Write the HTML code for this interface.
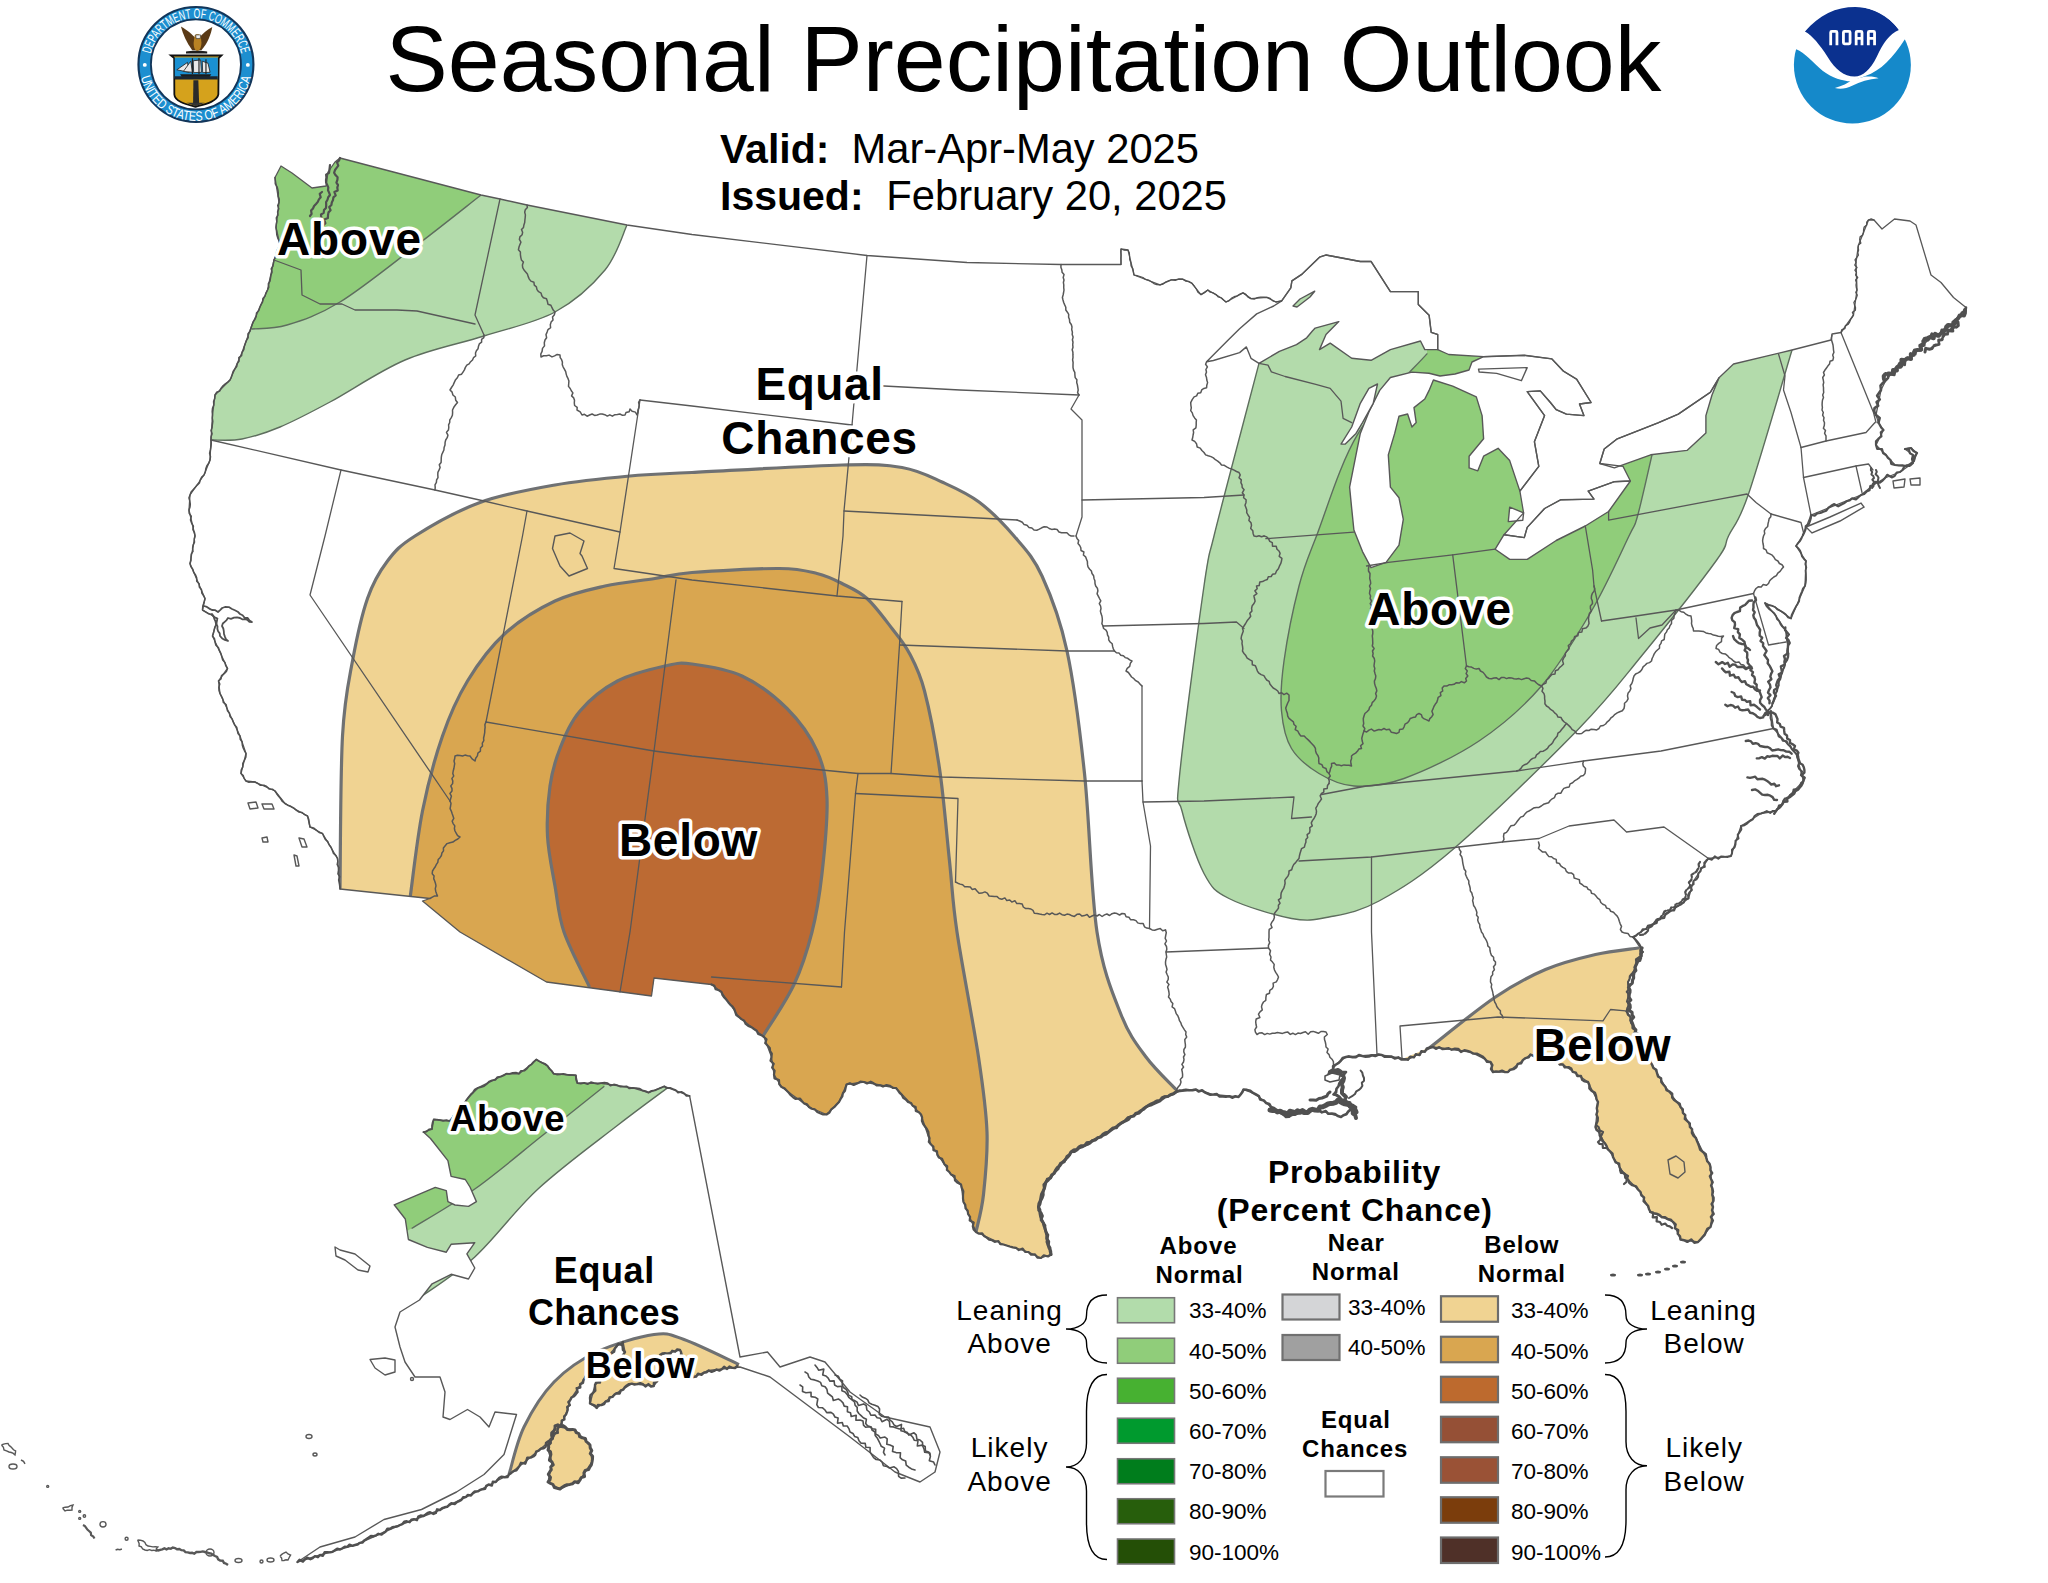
<!DOCTYPE html><html><head><meta charset="utf-8"><style>
html,body{margin:0;padding:0;background:#fff;}svg{display:block;}
text{font-family:"Liberation Sans",sans-serif;}
.lbl{font-weight:bold;fill:#000;stroke:#fff;stroke-width:7px;stroke-linejoin:round;paint-order:stroke;}
</style></head><body>
<svg width="2048" height="1583" viewBox="0 0 2048 1583">
<rect width="2048" height="1583" fill="#fff"/>
<defs>
<clipPath id="cc"><path d="M281,166 L292,173 L312,188 L326,186 L328,172 L335,162 L340,158 L481,195 L500,199 L527,205 L627,225 L692,234.5 L867,255.5 L967,262.5 L1061,264.5 L1121,264.5 L1121,249 L1128,250 L1134,275 L1160,284.9 L1171.4,279.8 L1182.7,279.2 L1191.8,283.2 L1200.9,294.6 L1207.8,290 L1221.4,298 L1226,302 L1243,292.9 L1251,298.6 L1266.9,297.4 L1276,302 L1281.7,300.8 L1290.8,287.8 L1291.9,280.9 L1302.1,274.1 L1319.5,257.2 L1326,255 L1360.3,261.5 L1371.1,261.5 L1390.4,291.6 L1418.3,291.6 L1418.3,304.5 L1429.1,315.2 L1431.2,332.4 L1437.7,334.5 L1437.7,349.6 L1448.7,354.5 L1483.6,356.7 L1524.3,355.3 L1551.9,358.9 L1563.5,371.2 L1576.6,379.2 L1591.1,402.5 L1579.5,404 L1583.9,415.6 L1566.4,414.1 L1556.2,409.7 L1550.4,402.5 L1540.3,390.9 L1527.2,391.6 L1544.6,415.6 L1534.4,441.7 L1538.8,466.4 L1519.9,491.1 L1523.6,512.9 L1504,534.7 L1524.3,537.6 L1527.2,527.4 L1544.6,508.5 L1560.6,499.8 L1594,499.1 L1588.2,491.1 L1614.4,481.7 L1630.4,481 L1623,466.4 L1599.8,463.5 L1604.2,449 L1617.3,438.8 L1658,422.8 L1678.3,414.1 L1710.3,392.3 L1719,377.8 L1733.5,364 L1792,350 L1831,340 L1832,334 L1841,332.5 L1853.5,315 L1857,290 L1856,262.5 L1858.5,245 L1868.5,220 L1874,220 L1882,229 L1894.5,219 L1910,221 L1916,225 L1931,275 L1941,282.5 L1953.5,297.5 L1966,307.5 L1958,318 L1946,330 L1930,338 L1911,357.5 L1898,366 L1886,380 L1881,390 L1876,415 L1878.5,422.5 L1883.5,430 L1876,445 L1886,455 L1895,465 L1906,466 L1914,461 L1917,453 L1911,448 L1905,449 L1913,455 L1913,463 L1900,472 L1885,478 L1873.5,485 L1861,495 L1811,515 L1803,535 L1796,546 L1806,561 L1805,586 L1791,618.5 L1775,607 L1765,603 L1776,616 L1786,631 L1788.5,653.5 L1781,676 L1772,706 L1763.5,716 L1771,711 L1773.5,728.5 L1796,753.5 L1803.5,781 L1790,795 L1776,811 L1761,813.5 L1741,826 L1731,856 L1708.5,858.5 L1693.5,881 L1688.5,898.5 L1661,918.5 L1641,932 L1633,937 L1643,952 L1628,982 L1628,1014.5 L1630.5,1017 L1635.5,1032 L1650.5,1062 L1665.5,1087 L1680.5,1107 L1703,1152 L1710.5,1167 L1713,1207 L1710.5,1227 L1698,1242 L1680.5,1239.5 L1673,1222 L1650.5,1212 L1640.5,1192 L1628,1179.5 L1613,1157 L1595.5,1127 L1598,1102 L1588,1082 L1563,1064.5 L1530.5,1054.5 L1508,1072 L1493,1072 L1490.5,1062 L1470.5,1052 L1433,1047 L1408,1059.5 L1378.5,1054.5 L1346,1057 L1336,1064.5 L1328.5,1074.5 L1346,1072 L1333.5,1094.5 L1356,1107 L1341,1117 L1316,1109.5 L1286,1117 L1271,1107 L1256,1094.5 L1243.5,1089.5 L1238.5,1097 L1213.5,1094.5 L1196,1089.5 L1176,1092 L1146,1107 L1108.5,1132 L1071,1152 L1046,1182 L1038.5,1207 L1046,1232 L1051,1254.5 L1041,1258 L1028.5,1252 L1003.5,1244.5 L976,1232 L963.5,1202 L961,1184.5 L951,1174.5 L931,1144.5 L921,1114.5 L896,1088 L864,1082 L846.5,1084.5 L839,1102 L826.5,1114.5 L809,1107 L781.5,1087 L774,1074.5 L771.5,1057 L764,1037 L739,1017 L721.5,992 L711.5,984.5 L654,978 L651.5,996 L546.5,982 L460,932 L422.5,901 L430,898.5 L340,889 L337.5,858.5 L322.5,833.5 L310,827 L307.5,816 L285,803.5 L275,791 L255,782 L246,781 L241,773.5 L246,753.5 L240,736 L220,693.5 L218.5,681 L227.5,668.5 L212.5,636 L217.5,618.5 L202.5,610 L205,598.5 L190,563.5 L195,536 L189,510 L190,495 L204,475 L210,460 L211,440 L212.5,415 L215,395 L230,380 L242,352.5 L252,325 L267.5,290 L274,260 L280,245 L276,227.5 L279,202.5 L275,177.5Z"/></clipPath>
<clipPath id="ak"><path d="M423.4,1132.1 L432.1,1129 L433.7,1119.5 L449.5,1121 L468.5,1097.4 L477.9,1087.9 L506.4,1073.7 L519,1073.7 L531.6,1064.2 L536.4,1059.5 L547.4,1065.8 L553.7,1073.7 L575.9,1075.3 L577.4,1083.2 L601.1,1083.2 L632.7,1087.9 L648.5,1092.6 L664.3,1086.3 L689.6,1095.8 L740,1357 L767.5,1352 L780,1367 L810,1357 L825,1362 L850,1392 L885,1417 L930,1427 L940,1452 L935,1472 L920,1482 L895,1472 L850,1437 L810,1407 L770,1377 L740,1367 L708.7,1370.5 L693.4,1377 L680,1350 L660,1355 L665,1370 L653.8,1386 L631.8,1383.7 L614.3,1394.7 L596.7,1408 L590,1403.5 L595,1385 L610,1370 L625,1352 L623,1342 L616.5,1346.4 L600,1365 L583.5,1380 L570.3,1400 L566,1414.5 L552.7,1438.7 L526.4,1460.6 L509,1474.5 L480,1490 L440,1510 L400,1525 L355,1545 L320,1555 L297.5,1562 L320,1547 L355,1537 L384,1519.5 L421.5,1509.5 L456.5,1492 L484,1474.5 L504,1454.5 L516.5,1414.5 L495,1412 L489,1427 L480,1417 L467.5,1409.5 L450,1419.5 L443,1417 L445,1392 L440,1377 L415,1377 L405,1362 L400,1347 L395,1327 L400,1312 L419.5,1300 L432.1,1283.8 L451.1,1274.3 L468.5,1279 L474.8,1268 L466.9,1253.8 L474.8,1242.7 L451.1,1244.3 L446.3,1252.2 L427.4,1247.4 L408.4,1239.5 L405.3,1219 L394.2,1204.8 L435.3,1187.4 L446.3,1190.6 L447.9,1201.6 L455,1205 L468.5,1206.4 L476.4,1201.6 L470,1187 L465.3,1179.5 L451.1,1176.4 L447.9,1160.6 L430.5,1138.5ZM335,1247 L340,1250 L355,1254 L370,1266 L368,1272 L358,1270 L345,1260 L336,1256ZM370,1359.5 L385,1358 L395,1360 L395,1372 L385,1375 L375,1368ZM555,1426 L575,1430 L590,1445 L592,1462 L580,1480 L560,1489 L548,1482 L552,1462 L548,1450Z"/></clipPath>
</defs>
<g clip-path="url(#cc)">
<path fill="#b3dbab" d="M627,225 C623.3,232.5 617,255.5 605,270 C593,284.5 575.2,301 555,312 C534.8,323 509,328 484,336 C459,344 430.7,349 405,360 C379.3,371 350.8,390.8 330,402 C309.2,413.2 294.7,420.8 280,427 C265.3,433.2 253.3,436.8 242,439 C230.7,441.2 217,439.8 212,440 L150,440 L150,100 L640,100Z"/>
<path fill="#90cd7a" d="M481,195 C470.3,203.3 440.5,227.2 417,245 C393.5,262.8 361.7,288.7 340,302 C318.3,315.3 301.7,320.5 287,325 C272.3,329.5 257.8,328.3 252,329 L150,330 L150,100 L470,100Z"/>
<path fill="#b3dbab" d="M1259,363.4 C1256.5,372.8 1251.6,391.2 1244.1,420 C1236.6,448.8 1220.7,508.3 1214,536 C1207.3,563.7 1209.8,546 1204,586 C1198.2,626 1183.2,738.5 1179.5,776 C1175.8,813.5 1177.9,794.8 1182,811 C1186.1,827.2 1196.2,858.9 1204,873.5 C1211.8,888.1 1214.4,891 1229,898.5 C1243.6,906 1274.8,915.4 1291.5,918.5 C1308.2,921.6 1314.4,919.9 1329,917 C1343.6,914.1 1358.2,912.4 1379,901 C1399.8,889.6 1420.7,877.2 1454,848.5 C1487.3,819.8 1547.8,760.6 1579,728.5 C1610.2,696.4 1618.7,683.9 1641.5,656 C1664.3,628.1 1701.5,581 1716,561 C1730.5,541 1723.1,547.2 1728.5,536 C1733.9,524.8 1737.9,525 1748.5,494 C1759.1,463 1784.8,374 1792,350 L1800,250 L1330,250 L1330,320 L1280,345Z"/>
<path fill="#90cd7a" d="M1426.9,353.9 C1415.5,367.1 1376.6,403 1358.2,433.4 C1339.8,463.8 1326.4,510.6 1316.5,536 C1306.6,561.4 1304.4,565.2 1299,586 C1293.6,606.8 1286.9,640.2 1284,661 C1281.1,681.8 1280.2,696.4 1281.5,711 C1282.8,725.6 1285.2,738.1 1291.5,748.5 C1297.8,758.9 1308.6,767.2 1319,773.5 C1329.4,779.8 1339.8,785.2 1354,786 C1368.2,786.8 1383.2,786 1404,778.5 C1424.8,771 1456.1,756.4 1479,741 C1501.9,725.6 1522.8,707.7 1541.5,686 C1560.2,664.3 1576.9,636 1591.5,611 C1606.1,586 1621.3,551.9 1629,536 C1636.7,520.1 1633.8,529.3 1637.6,515.8 C1641.4,502.3 1649.6,465 1652,454.8 L1665,380 L1430,300Z"/>
<path fill="#f0d392" d="M340,889 C340.4,863.5 340.4,774 342.5,736 C344.6,698 348.3,683.9 352.5,661 C356.7,638.1 361.7,615.2 367.5,598.5 C373.3,581.8 379.6,571.4 387.5,561 C395.4,550.6 399.6,545.8 415,536 C430.4,526.2 456.7,511 480,502.5 C503.3,494 530,489.4 555,485 C580,480.6 607.2,478.1 630,476 C652.8,473.9 656.7,474.3 692,472.5 C727.3,470.7 807,465.8 842,465 C877,464.2 885.3,464.7 902,467.5 C918.7,470.3 929.2,476.2 942,482 C954.8,487.8 967,493 979,502 C991,511 1003.5,523.7 1014,536 C1024.5,548.3 1033.2,556.8 1042,576 C1050.8,595.2 1059.9,618.1 1067,651 C1074.1,683.9 1079.5,726.7 1084.5,773.5 C1089.5,820.3 1090.9,891.8 1097,932 C1103.1,972.2 1112.8,993.7 1121,1014.5 C1129.2,1035.3 1136.8,1044.5 1146,1057 C1155.2,1069.5 1171,1084.1 1176,1089.5 L1200,1300 L330,1300Z"/>
<path fill="#d9a650" d="M410,898.5 C412.1,883.9 417.1,838.1 422.5,811 C427.9,783.9 435,757.7 442.5,736 C450,714.3 457.1,698.1 467.5,681 C477.9,663.9 490.4,646.8 505,633.5 C519.6,620.2 538.3,608.9 555,601 C571.7,593.1 588.3,589.8 605,586 C621.7,582.2 640.5,580.8 655,578.5 C669.5,576.2 671.2,574.2 692,572.5 C712.8,570.8 758.7,568.3 779.5,568.5 C800.3,568.7 806.6,571 817,573.5 C827.4,576 833.7,579.3 842,583.5 C850.3,587.7 858.7,591 867,598.5 C875.3,606 884.9,619.3 892,628.5 C899.1,637.7 904.1,643.1 909.5,653.5 C914.9,663.9 919.5,671.8 924.5,691 C929.5,710.2 935.3,740.2 939.5,768.5 C943.7,796.8 946.6,833.8 949.5,861 C952.4,888.2 952.2,899.3 957,932 C961.8,964.7 973.5,1023.7 978.5,1057 C983.5,1090.3 986.2,1109.1 987,1132 C987.8,1154.9 985.3,1177.8 983.5,1194.5 C981.7,1211.2 977.2,1225.8 976,1232 L980,1300 L400,1300Z"/>
<path fill="#bc6a33" d="M589,986 C584.8,977 569.7,948.7 564,932 C558.3,915.3 557.8,902 555,886 C552.2,870 548.3,852.7 547.5,836 C546.7,819.3 547.9,800.6 550,786 C552.1,771.4 555,761 560,748.5 C565,736 570.4,722.2 580,711 C589.6,699.8 603.3,688.5 617.5,681 C631.7,673.5 652.6,668.8 665,666 C677.4,663.2 679.2,662.3 692,664 C704.8,665.7 726.2,668.6 742,676 C757.8,683.4 774.5,696 787,708.5 C799.5,721 810.3,736 817,751 C823.7,766 826.2,778.1 827,798.5 C827.8,818.9 824.5,851.2 822,873.5 C819.5,895.8 816.7,913.5 812,932 C807.3,950.5 802,967.4 794,984.5 C786,1001.6 769,1026.2 764,1034.5 L764,1300 L589,1300Z"/>
<path fill="#f0d392" d="M1430.5,1047 C1441.3,1038.7 1476.3,1009.9 1495.5,997 C1514.7,984.1 1528.8,976.6 1545.5,969.5 C1562.2,962.4 1580.1,958.1 1595.5,954.5 C1610.9,950.9 1630.9,949.1 1638,948 L1800,948 L1800,1300 L1400,1300 L1400,1060Z"/>
<g fill="none" stroke-linejoin="round" stroke-linecap="round">
<path stroke="#5e6e5e" stroke-width="1.4" d="M627,225 C623.3,232.5 617,255.5 605,270 C593,284.5 575.2,301 555,312 C534.8,323 509,328 484,336 C459,344 430.7,349 405,360 C379.3,371 350.8,390.8 330,402 C309.2,413.2 294.7,420.8 280,427 C265.3,433.2 253.3,436.8 242,439 C230.7,441.2 217,439.8 212,440"/>
<path stroke="#5e6e5e" stroke-width="1.4" d="M481,195 C470.3,203.3 440.5,227.2 417,245 C393.5,262.8 361.7,288.7 340,302 C318.3,315.3 301.7,320.5 287,325 C272.3,329.5 257.8,328.3 252,329"/>
<path stroke="#5e6e5e" stroke-width="1.4" d="M1259,363.4 C1256.5,372.8 1251.6,391.2 1244.1,420 C1236.6,448.8 1220.7,508.3 1214,536 C1207.3,563.7 1209.8,546 1204,586 C1198.2,626 1183.2,738.5 1179.5,776 C1175.8,813.5 1177.9,794.8 1182,811 C1186.1,827.2 1196.2,858.9 1204,873.5 C1211.8,888.1 1214.4,891 1229,898.5 C1243.6,906 1274.8,915.4 1291.5,918.5 C1308.2,921.6 1314.4,919.9 1329,917 C1343.6,914.1 1358.2,912.4 1379,901 C1399.8,889.6 1420.7,877.2 1454,848.5 C1487.3,819.8 1547.8,760.6 1579,728.5 C1610.2,696.4 1618.7,683.9 1641.5,656 C1664.3,628.1 1701.5,581 1716,561 C1730.5,541 1723.1,547.2 1728.5,536 C1733.9,524.8 1737.9,525 1748.5,494 C1759.1,463 1784.8,374 1792,350"/>
<path stroke="#5e6e5e" stroke-width="1.4" d="M1426.9,353.9 C1415.5,367.1 1376.6,403 1358.2,433.4 C1339.8,463.8 1326.4,510.6 1316.5,536 C1306.6,561.4 1304.4,565.2 1299,586 C1293.6,606.8 1286.9,640.2 1284,661 C1281.1,681.8 1280.2,696.4 1281.5,711 C1282.8,725.6 1285.2,738.1 1291.5,748.5 C1297.8,758.9 1308.6,767.2 1319,773.5 C1329.4,779.8 1339.8,785.2 1354,786 C1368.2,786.8 1383.2,786 1404,778.5 C1424.8,771 1456.1,756.4 1479,741 C1501.9,725.6 1522.8,707.7 1541.5,686 C1560.2,664.3 1576.9,636 1591.5,611 C1606.1,586 1621.3,551.9 1629,536 C1636.7,520.1 1633.8,529.3 1637.6,515.8 C1641.4,502.3 1649.6,465 1652,454.8"/>
<path stroke="#6f7173" stroke-width="3.2" d="M340,889 C340.4,863.5 340.4,774 342.5,736 C344.6,698 348.3,683.9 352.5,661 C356.7,638.1 361.7,615.2 367.5,598.5 C373.3,581.8 379.6,571.4 387.5,561 C395.4,550.6 399.6,545.8 415,536 C430.4,526.2 456.7,511 480,502.5 C503.3,494 530,489.4 555,485 C580,480.6 607.2,478.1 630,476 C652.8,473.9 656.7,474.3 692,472.5 C727.3,470.7 807,465.8 842,465 C877,464.2 885.3,464.7 902,467.5 C918.7,470.3 929.2,476.2 942,482 C954.8,487.8 967,493 979,502 C991,511 1003.5,523.7 1014,536 C1024.5,548.3 1033.2,556.8 1042,576 C1050.8,595.2 1059.9,618.1 1067,651 C1074.1,683.9 1079.5,726.7 1084.5,773.5 C1089.5,820.3 1090.9,891.8 1097,932 C1103.1,972.2 1112.8,993.7 1121,1014.5 C1129.2,1035.3 1136.8,1044.5 1146,1057 C1155.2,1069.5 1171,1084.1 1176,1089.5"/>
<path stroke="#6f7173" stroke-width="3.2" d="M410,898.5 C412.1,883.9 417.1,838.1 422.5,811 C427.9,783.9 435,757.7 442.5,736 C450,714.3 457.1,698.1 467.5,681 C477.9,663.9 490.4,646.8 505,633.5 C519.6,620.2 538.3,608.9 555,601 C571.7,593.1 588.3,589.8 605,586 C621.7,582.2 640.5,580.8 655,578.5 C669.5,576.2 671.2,574.2 692,572.5 C712.8,570.8 758.7,568.3 779.5,568.5 C800.3,568.7 806.6,571 817,573.5 C827.4,576 833.7,579.3 842,583.5 C850.3,587.7 858.7,591 867,598.5 C875.3,606 884.9,619.3 892,628.5 C899.1,637.7 904.1,643.1 909.5,653.5 C914.9,663.9 919.5,671.8 924.5,691 C929.5,710.2 935.3,740.2 939.5,768.5 C943.7,796.8 946.6,833.8 949.5,861 C952.4,888.2 952.2,899.3 957,932 C961.8,964.7 973.5,1023.7 978.5,1057 C983.5,1090.3 986.2,1109.1 987,1132 C987.8,1154.9 985.3,1177.8 983.5,1194.5 C981.7,1211.2 977.2,1225.8 976,1232"/>
<path stroke="#6f7173" stroke-width="3.2" d="M589,986 C584.8,977 569.7,948.7 564,932 C558.3,915.3 557.8,902 555,886 C552.2,870 548.3,852.7 547.5,836 C546.7,819.3 547.9,800.6 550,786 C552.1,771.4 555,761 560,748.5 C565,736 570.4,722.2 580,711 C589.6,699.8 603.3,688.5 617.5,681 C631.7,673.5 652.6,668.8 665,666 C677.4,663.2 679.2,662.3 692,664 C704.8,665.7 726.2,668.6 742,676 C757.8,683.4 774.5,696 787,708.5 C799.5,721 810.3,736 817,751 C823.7,766 826.2,778.1 827,798.5 C827.8,818.9 824.5,851.2 822,873.5 C819.5,895.8 816.7,913.5 812,932 C807.3,950.5 802,967.4 794,984.5 C786,1001.6 769,1026.2 764,1034.5"/>
<path stroke="#6f7173" stroke-width="3.2" d="M1430.5,1047 C1441.3,1038.7 1476.3,1009.9 1495.5,997 C1514.7,984.1 1528.8,976.6 1545.5,969.5 C1562.2,962.4 1580.1,958.1 1595.5,954.5 C1610.9,950.9 1630.9,949.1 1638,948"/>
</g>
</g>
<g fill="#fff" stroke="#585858" stroke-width="1.4" stroke-linejoin="round">
<path d="M1206.6,361.7 L1212.3,356 L1228.2,340.1 L1239.6,328.7 L1256.7,313.9 L1273.7,306 L1281.7,300.8 L1290.8,287.8 L1291.9,280.9 L1302.1,274.1 L1319.5,257.2 L1326,255 L1360.3,261.5 L1371.1,261.5 L1390.4,291.6 L1418.3,291.6 L1418.3,304.5 L1429.1,315.2 L1431.2,332.4 L1437.7,334.5 L1437.7,349.6 L1424.8,349.6 L1420.5,341 L1390.4,349.6 L1371.1,360.3 L1351.7,358.2 L1330.2,343.1 L1319.5,349.6 L1326,334.5 L1338.8,321.6 L1315.2,328.1 L1312.4,331 L1306.7,337.8 L1296.5,344.6 L1279.4,351.4 L1259,363.4 L1251,358.3 L1246.4,346.9 L1239.6,352.6 L1213.4,360.5Z"/>
<path d="M1371,567.7 L1362.5,551.6 L1353.9,530 L1351.7,508.6 L1349.6,487.1 L1356,454.9 L1360.3,433.4 L1368.9,411.9 L1379.7,390.4 L1390.4,377.5 L1411.9,372.1 L1429,373.2 L1440,376 L1455,374 L1469,370 L1472,362 L1483.6,356.7 L1524.3,355.3 L1551.9,358.9 L1563.5,371.2 L1576.6,379.2 L1591.1,402.5 L1579.5,404 L1583.9,415.6 L1566.4,414.1 L1556.2,409.7 L1550.4,402.5 L1540.3,390.9 L1527.2,391.6 L1544.6,415.6 L1534.4,441.7 L1538.8,466.4 L1519.9,491.1 L1509.7,460.6 L1498.1,448.3 L1483.6,456.2 L1477.8,470.8 L1469.1,467.9 L1469.1,456.2 L1483.6,438.8 L1482.1,415.6 L1476.3,396.9 L1452.7,386.1 L1433.4,380 L1429.1,390.4 L1424.8,399 L1414,407.6 L1416.2,422.6 L1411.9,426.9 L1407.6,414 L1399,416.2 L1394.7,433.4 L1388.3,454.9 L1390.4,487.1 L1399,497.8 L1403.3,519.3 L1399,545.1 L1386.1,562.3Z"/>
<path d="M1341,444.1 L1351.7,427 L1360.3,403.3 L1368.9,388.3 L1377.5,384 L1373.2,403.3 L1362.5,422.6 L1356,433.4 L1345.3,444.1Z"/>
<path d="M1495.2,549.2 L1504,534.7 L1524.3,537.6 L1527.2,527.4 L1544.6,508.5 L1560.6,499.8 L1594,499.1 L1588.2,491.1 L1614.4,481.7 L1630.4,481 L1608.6,511.5 L1585.3,526 L1556.2,540.5 L1527.2,559.4 L1509.7,559.4Z"/>
<path d="M1509.7,507.1 L1523.6,512.9 L1522.8,520.2 L1508.3,521.6Z"/>
<path d="M1599.8,463.5 L1604.2,449 L1617.3,438.8 L1658,422.8 L1678.3,414.1 L1710.3,392.3 L1719,377.8 L1712,395 L1705.9,415.6 L1705.9,433 L1687,450.4 L1650.7,454.8 L1614.4,467.9Z"/>
<path fill="none" d="M555,536 L552.5,548.5 L560,566 L569,576 L587.5,568.5 L582,556 L580,553.5 L584,541 L570,533Z"/>
<path fill="none" d="M1668,1160 L1676,1156 L1684,1162 L1685,1172 L1678,1178 L1670,1174Z"/>
<path fill="none" d="M248,803 L256,802 L258,808 L250,809Z"/>
<path fill="none" d="M262,804 L272,804 L274,809 L264,809Z"/>
<path fill="none" d="M262,838 L267,837 L268,842 L263,842Z"/>
<path fill="none" d="M299,838 L304,839 L307,847 L302,847Z"/>
<path fill="none" d="M294,855 L297,856 L299,866 L296,866Z"/>
<path fill="none" d="M1893,481 L1905,479 L1904,487 L1894,488Z"/>
<path fill="none" d="M1910,479 L1920,478 L1920,485 L1911,485Z"/>
<path fill="none" d="M1478.5,369.1 L1527.2,367.6 L1521.4,380.7 L1496.7,373.4 L1479.2,372Z"/>
<path fill="#b3dbab" d="M1293,306 L1300,299 L1314.7,291.2 L1310,297 L1297,307Z"/>
</g>
<g fill="none" stroke="#585858" stroke-width="1.3" stroke-linejoin="round" stroke-linecap="round">
<path d="M274,260 L301,270 L302,295 L320,304 L342,304 L355,310 L397,310 L417,311 L475,324"/>
<path d="M500,199 L475,315 L484,335"/>
<path stroke-width="1.5" d="M484,335 L483.8,337.7 L481.6,339.4 L481.6,342.2 L479.3,343.9 L478.5,346.2 L478,348.8 L476.4,350.8 L475.5,353.1 L475.7,356 L473.5,357.7 L472.5,360 L470.6,361.7 L469.1,363.9 L466.8,365.2 L465.4,367.4 L464.4,369.9 L463,372.1 L461.6,374.2 L458.6,375 L457.5,377.5 L455.6,379.7 L454.3,382.4 L453.1,385.1 L451.5,387.5 L450,390 L452.1,392.1 L452.9,395 L455.3,397 L455.7,400.2 L457.5,402.5 L455.6,404.8 L453.8,407.3 L452.5,410 L452.6,412.6 L452.4,415.2 L451.3,417.6 L449.8,419.9 L449.7,422.5 L448.6,424.9 L448.8,427.5 L448.4,430.1 L446.5,432.3 L447.9,435.2 L447.2,437.7 L445.7,440 L445.1,442.4 L445,445 L444.1,447.5 L443.9,450 L442.8,452.4 L441.7,454.8 L441.3,457.3 L441.2,459.9 L441.1,462.5 L439.3,464.8 L440.1,467.5 L439.1,469.9 L437.9,472.3 L437.8,474.9 L438,477.6 L436.6,479.9 L436.4,482.4 L435,484.8 L435.2,487.4 L435,490"/>
<path d="M211,440 L341,470 L435,490 L484,501 L527,511 L620,532"/>
<path d="M341,470 L325,536 L310,595 L450,801"/>
<path d="M527,511 L522.5,536 L486,722"/>
<path stroke-width="1.5" d="M450,801 L450.7,798.5 L451.4,796.1 L449.9,793.4 L452,791.1 L452,788.6 L450.8,785.9 L452.6,783.6 L452.8,781.1 L451.9,778.4 L453.7,776.1 L452.8,773.5 L453.2,771 L453.9,768.5 L454.3,766 L454.7,763.6 L454,761 L454.7,758.5 L455,756 L457.5,755.3 L460,755.5 L462.5,756 L465,755.1 L467.5,755.7 L470,756 L472.1,758.9 L475,761 L475.7,758.2 L477.4,755.9 L477.9,753.1 L480.4,751.2 L480.5,748.1 L482.5,746 L482.3,743.2 L483.8,740.7 L483.6,738 L484.2,735.3 L484.7,732.7 L484.8,730 L485.1,727.3 L484.9,724.6 L486,722"/>
<path stroke-width="1.5" d="M450,801 L451,803.4 L450.6,806 L450.1,808.7 L451.3,811.1 L452.1,813.5 L453,815.9 L453.8,818.4 L452.2,821.2 L453.1,823.6 L454.8,825.9 L454.4,828.5 L455,831 L456.3,833.3 L457.6,835.6 L460,837 L457.8,839 L455.2,840.4 L452.9,842.1 L449.9,842.8 L447,843.6 L445,846 L443.4,848 L443.5,850.9 L441.9,853 L441.4,855.5 L440,857.7 L438.2,859.6 L437.8,862.3 L436.4,864.4 L435.3,866.7 L433.8,868.8 L432.5,871 L432.2,873.7 L434.1,875.9 L433.7,878.6 L434.7,881 L435.5,883.4 L436,885.9 L435.3,888.6 L435.7,891.2 L436.5,893.6 L437.5,896 L434.7,895.9 L432.3,897.1 L430,898.5"/>
<path stroke-width="1.5" d="M527,205 L527.4,207.6 L525.3,209.8 L524.7,212.2 L525.4,214.9 L525.2,217.5 L524.9,220 L524.7,222.5 L523.9,224.9 L523.5,227.4 L521.5,229.5 L522.6,232.3 L522.1,234.8 L519.9,236.9 L519.4,239.4 L520.9,242.2 L519.9,244.6 L519,247 L518.4,249.8 L520.4,252.1 L520.4,254.7 L520.8,257.3 L521.4,259.9 L523.4,262.1 L522.4,265 L522.7,267.6 L524,270 L525.7,272 L527.4,274 L528.2,276.6 L529.3,279.1 L530.9,281.1 L533.9,282.2 L534.3,285.1 L536.4,286.8 L537,289.6 L538.6,291.7 L541.1,293.1 L541.8,295.8 L543.4,297.8 L546.5,298.8 L547.4,301.4 L547.9,304.2 L550.9,305.3 L552,307.7 L553.2,310.1 L555,312 L554.4,314.7 L552.5,316.9 L553,319.9 L551.1,322.1 L550.3,324.7 L550.6,327.7 L548,329.6 L547.1,332.1 L546,334.6 L546.6,337.7 L545,340 L544.3,342.8 L544.5,345.9 L542.5,348.4 L542.1,351.3 L540.8,354 L541,357 L543.6,355.8 L546.4,355.8 L549,355.1 L552,356.9 L554.6,355.9 L557.2,354.4 L560,355 L560.2,357.6 L561.6,359.7 L562.4,362.1 L562.3,364.8 L563.2,367.1 L564.5,369.3 L565.7,371.6 L566.2,374.1 L566.9,376.4 L568.1,378.7 L568.9,381.1 L568.7,383.7 L568.5,386.4 L570.2,388.5 L571.3,390.8 L572.9,392.9 L571.6,395.9 L573.7,397.9 L574.5,400.3 L574.3,403 L574.6,405.5 L577.2,407.3 L577,410 L580.2,411.8 L582,415 L584.5,414.3 L587.1,416.2 L589.6,415 L592.1,414 L594.6,415.4 L597.2,415 L599.7,414.1 L602.2,414 L604.8,414.7 L607.3,416.1 L609.8,414.8 L612.4,416.2 L614.9,414.7 L617.4,414.6 L619.9,414 L622.5,415.3 L625,415 L626,412.5 L629.2,411.7 L630,409 L632.1,411.2 L635.4,412.1 L637,415 L637.8,412.6 L637.9,410 L638.9,407.6 L639.2,405 L638.6,402.3 L640,400"/>
<path d="M640,400 L620,532 L614,568.5 L692,580 L837,596 L902,601.5"/>
<path d="M640,400 L692,406 L852,425"/>
<path d="M867,255.5 L852,425"/>
<path d="M857,385 L884,386 L960,390 L1079,395"/>
<path d="M852,425 L844,511 L843,536 L837,596"/>
<path stroke-width="1.5" d="M1017,520 L1019.7,521 L1022.3,522.2 L1024.1,524.6 L1027,525.3 L1029,527.4 L1031.9,528 L1034,530 L1036.8,530.3 L1039.3,529.1 L1041.7,527.8 L1044.2,526.7 L1047,527 L1049.2,528.5 L1051.7,529.4 L1054.5,529.1 L1057.1,529.5 L1059,532 L1061.5,532.7 L1064.2,532.7 L1066.9,532.8 L1068.9,534.8 L1071.2,536.1 L1074,536"/>
<path d="M844,511 L1017,520"/>
<path stroke-width="1.5" d="M1061,264.5 L1060.9,267.2 L1061.8,269.7 L1062.1,272.3 L1064,274.6 L1063.2,277.5 L1064,280 L1063.4,282.5 L1063.8,285 L1063.7,287.5 L1064,290 L1063.6,292.5 L1063.1,295 L1062.4,297.5 L1063,300 L1063.7,302.5 L1064.7,304.9 L1065.8,307.2 L1065.8,310 L1067.4,312.2 L1068.7,314.4 L1068.6,317.2 L1069.5,319.6 L1069.7,322.3 L1071.3,324.5 L1072,327 L1071.7,329.5 L1072.4,332.1 L1072.2,334.6 L1073.1,337.1 L1072.4,339.7 L1073,342.2 L1072.7,344.7 L1073,347.3 L1072.2,349.8 L1072.9,352.3 L1072.9,354.9 L1073,357.4 L1072.6,359.9 L1073.1,362.5 L1073,365 L1073,367.6 L1073.6,370.1 L1074.8,372.4 L1074.9,375 L1075.2,377.6 L1076.9,379.8 L1076.7,382.5 L1077.4,384.9 L1077.8,387.4 L1078.2,390 L1077.6,392.7 L1079,395"/>
<path d="M1079,395 L1071,409 L1082,420 L1082,500 L1082,517 L1076,536"/>
<path d="M1082,500 L1204,497.5 L1244,495"/>
<path stroke-width="1.5" d="M1206.6,361.7 L1205.6,364.3 L1207.4,366.9 L1205.9,369.5 L1206.5,372.1 L1205.5,374.8 L1206.5,377.4 L1206.8,380 L1207.6,382.6 L1206.8,385.2 L1206.6,387.8 L1203.9,388.4 L1201.7,389.9 L1200.7,392.8 L1197.8,393.3 L1196.6,395.9 L1194.1,396.9 L1192.2,399.6 L1190.7,402.6 L1190.9,405.3 L1191.3,407.9 L1190.7,410.6 L1192.3,412.9 L1193.1,415.6 L1194.6,417.9 L1196.4,420 L1196.2,422.6 L1196.2,425.2 L1195.9,427.8 L1193.2,429.8 L1193.6,432.5 L1193.1,435 L1192.7,437.5 L1192,440 L1194.7,441.4 L1196.5,443.7 L1197.2,447 L1200.2,448.1 L1201.9,450.5 L1204,452.5 L1205.6,454.9 L1208.2,455.8 L1211,456.6 L1213.4,457.9 L1215.4,459.7 L1217.7,461.1 L1219.8,462.8 L1221.5,465 L1224.3,465.3 L1226.7,466.8 L1229,468.1 L1231.6,469 L1234.1,470.1 L1236.5,471.5 L1239,472.5 L1240.2,474.9 L1239,477.7 L1241.3,479.9 L1240.9,482.6 L1242,484.9 L1242.2,487.5 L1244.1,489.7 L1242.3,492.8 L1244,495 L1243.6,497.7 L1246.1,499.8 L1246,502.4 L1245,505.2 L1245.9,507.6 L1246.8,510 L1246.7,512.7 L1248,515 L1249.6,517.4 L1248.9,520.4 L1251,522.7 L1251.5,525.4 L1250.7,528.4 L1252.8,530.7 L1253.1,533.4 L1254,536 L1256.5,536.4 L1259,535.8 L1261.5,536.7 L1264,536"/>
<path stroke-width="1.5" d="M1076,536 L1077,538.4 L1078.7,540.4 L1078,543.5 L1079.7,545.5 L1080.8,547.8 L1081,550.5 L1083.9,552 L1083.4,555 L1085.6,556.8 L1086.5,559.2 L1087.4,561.6 L1087.5,564.4 L1088,566.9 L1089.5,569 L1091.4,571 L1092,573.5 L1093.6,575.7 L1094,578.4 L1094.9,580.8 L1095,583.5 L1095.7,586 L1097.4,588.2 L1097.9,590.8 L1097.1,593.8 L1098.3,596.1 L1099.5,598.5 L1100.8,600.9 L1099.3,603.6 L1100.6,606 L1101,608.5 L1100.4,611.1 L1101,613.6 L1101.9,616 L1102.3,618.5 L1102.3,621 L1101.9,623.6 L1103,626 L1103.6,628.5 L1106,630.1 L1107.2,632.3 L1107.5,634.9 L1108.7,637.2 L1108.7,639.9 L1110.1,642 L1112.2,643.8 L1112.6,646.4 L1113.3,648.8 L1114.5,651"/>
<path d="M1265.8,538.7 L1353.9,532.2"/>
<path d="M1259,363.4 L1268,365.1 L1271.4,371.9 L1285.1,376.5 L1315.8,384.4 L1330.2,388.3 L1341,401.2 L1343.1,418.3 L1351.7,422.6"/>
<path stroke-width="1.5" d="M1264,536 L1266.8,536.9 L1268.6,538.9 L1269.8,541.4 L1272.3,542.7 L1272.5,546.2 L1276.2,546.3 L1277,549.2 L1279,551 L1280.1,553.4 L1279.2,556.3 L1281.9,558.3 L1281.5,561 L1280.7,563.7 L1279.4,566.2 L1278.4,568.8 L1276.5,571 L1275.4,573.7 L1272.6,574.2 L1271.2,576.5 L1268.3,576.8 L1267.3,579.5 L1264.8,580.4 L1262.6,581.6 L1259.8,582 L1259.2,585.5 L1256.5,586 L1257.2,588.7 L1254.9,590.9 L1256.9,593.7 L1253.9,595.8 L1254.5,598.5 L1255.1,601.1 L1254,603.5 L1252.2,605.7 L1251.6,608.2 L1251.9,611.1 L1249.8,613.2 L1250.7,616.3 L1249,618.5 L1247.1,620.8 L1245.6,623.5 L1244,626 L1242.5,628.3 L1243.3,631.1 L1242.4,633.6 L1241.5,636 L1241.1,638.6 L1242.2,641 L1242,643.6 L1242.5,646.1 L1242.8,648.6 L1242.5,651.2 L1244,653.5 L1245.8,655.6 L1247.2,658.1 L1249.6,659.7 L1252.2,661.2 L1252.3,664.7 L1255.4,665.7 L1256.5,668.5 L1257.4,671.1 L1258.9,673.2 L1261.1,674.6 L1263.9,675.6 L1265.2,677.9 L1266.7,680 L1269.1,681.3 L1269.9,684 L1271.5,686 L1273.2,688 L1275.6,689.4 L1277.8,691 L1279,693.5 L1281.7,692.7 L1283.9,694.6 L1286.7,693.2 L1289,695 L1289,697.7 L1289,700.5 L1287.7,703 L1286.7,705.6 L1285.7,708.1 L1286.5,711 L1287.4,713.5 L1287.7,716.2 L1289,718.4 L1291.2,720.2 L1293.4,721.9 L1294,724.5 L1296.1,726.3 L1295.2,729.7 L1297.9,731.2 L1299,733.5 L1300.7,735.9 L1304.2,736 L1306.1,738 L1308.2,739.9 L1310.2,741.9 L1312.1,743.9 L1314,746 L1315.4,748.3 L1315.6,750.9 L1316.4,753.4 L1318,755.7 L1318.8,758.1 L1318.7,760.9 L1319,763.5 L1321.9,764.6 L1323.1,767.4 L1326,768.5 L1326.9,771.6 L1329,773.5 L1330.3,776 L1328.4,778.5 L1329.3,781 L1329,783.5"/>
<path d="M1103,626 L1204,623.5 L1236.5,622 L1244,628.5"/>
<path stroke-width="1.5" d="M1114.5,651 L1116.4,652.8 L1119.1,653.1 L1120.8,655.2 L1123.4,655.7 L1125.2,657.6 L1127.7,658.3 L1129.7,659.9 L1132,661 L1130.3,663.4 L1129.7,666.4 L1127.2,668.3 L1126,671 L1128.4,672.5 L1130,674.8 L1131.6,677 L1133.9,678.7 L1135.7,680.7 L1138.2,682 L1140,684.1 L1142,686"/>
<path d="M1142,686 L1142,781"/>
<path d="M899.5,645 L1067,651 L1114.5,651"/>
<path d="M902,601.5 L899.5,645 L891,773.5"/>
<path d="M676,580 L654,751"/>
<path d="M486,722 L654,751"/>
<path d="M654,751 L630,932 L620,992"/>
<path d="M654,751 L692,756 L822,770 L858,773.5 L891,773.5 L942,777 L1084.5,781 L1142,781"/>
<path d="M858,773.5 L855.5,793.5 L844.5,932 L841.5,987"/>
<path d="M711.5,977 L841.5,987"/>
<path d="M855.5,793.5 L958,798.5 L955.5,882"/>
<path stroke-width="1.5" d="M955.5,882 L957.8,883.2 L960.2,884.1 L962.7,884.8 L964.7,886.7 L967.5,886.8 L970.3,887 L972.1,889.4 L975.1,888.7 L977,891 L979.1,893.2 L981.8,893.1 L984.9,891.9 L987.3,893.1 L989.1,896 L991.8,896.2 L994.4,896.5 L997.1,896.6 L999.2,898.5 L1001.8,899.2 L1004.9,897.9 L1006.8,900.6 L1009.7,899.9 L1011.8,902.1 L1014.9,900.7 L1016.8,903.6 L1019.5,903.5 L1022.2,903.9 L1023.3,907 L1025.4,908.4 L1028.2,908.5 L1030.9,909 L1033,910.4 L1034.3,913.2 L1037,913.5 L1039.5,914.1 L1042,914.5 L1044.5,914.8 L1047,913.2 L1049.5,914.5 L1052.1,912.9 L1054.5,914.4 L1057,914.5 L1059.6,913.1 L1062,914.7 L1064.5,915.2 L1067,914.1 L1069.5,914.5 L1072,915.8 L1074.4,916.4 L1077,914.3 L1079.6,914 L1082,916.1 L1084.5,915.6 L1087.1,914.5 L1089.4,917.3 L1092,916 L1094.4,915 L1097,916 L1099.4,914.5 L1102.1,916.5 L1104.5,914.9 L1106.9,914 L1109.6,915.5 L1112,913.7 L1114.4,913 L1117,913.6 L1119.6,915 L1122,913.5 L1124.8,913.8 L1126.1,916.8 L1128.9,917.2 L1130.5,919.7 L1133.5,919.7 L1136,920.6 L1137.7,922.9 L1140.3,923.6 L1143.2,923.6 L1144.5,926.8 L1146.8,928.1 L1149.5,928.5 L1152.1,929.9 L1154.7,930.2 L1157.5,929.2 L1160.3,928.6 L1162.7,930.7 L1165.5,930"/>
<path d="M1142,781 L1143,802 L1150.5,846 L1149.5,928.5"/>
<path stroke-width="1.5" d="M1165.5,930 L1166.3,932.7 L1165.7,935.5 L1165.2,938.3 L1166.5,941 L1164.9,943.8 L1166.5,946.5 L1166.8,949.2 L1166,952 L1166.3,954.5 L1166.7,957 L1165.9,959.5 L1165.5,962.1 L1165.6,964.6 L1166.4,967 L1167,969.5 L1166.1,972.1 L1167.1,974.5 L1168.3,977 L1168.2,979.5 L1166.8,982.1 L1169,984.4 L1167.6,987 L1168.4,989.5 L1168.9,992 L1169.2,994.5 L1168.5,997 L1170.2,999.1 L1171,1001.6 L1172.8,1003.6 L1172.1,1006.9 L1174.5,1008.6 L1175.4,1011 L1176.2,1013.6 L1177.8,1015.7 L1178.8,1018.1 L1179.5,1020.7 L1180.9,1022.9 L1181.7,1025.4 L1183.1,1027.6 L1184.5,1029.8 L1186,1032 L1185.7,1034.5 L1186.7,1037.1 L1184.8,1039.5 L1185,1042 L1185.4,1044.6 L1185.4,1047.1 L1183.9,1049.5 L1183.8,1052 L1184.9,1054.6 L1183.5,1057 L1184,1059.6 L1183.5,1062 L1181.9,1064.4 L1183.6,1067.1 L1181.7,1069.4 L1182.3,1072 L1182.6,1074.6 L1182.5,1077.1 L1180.3,1079.4 L1181,1082 L1180.1,1084.7 L1178.2,1086.9 L1176.8,1089.3 L1176,1092"/>
<path d="M1166,952 L1268.5,948"/>
<path d="M1143,802 L1204,801 L1294,797 L1291.5,818.5 L1311.5,817"/>
<path stroke-width="1.5" d="M1329,783.5 L1327.5,785.5 L1327.2,788.4 L1323.8,789 L1323.8,792.1 L1321.5,793.5 L1320.1,795.8 L1321.5,799 L1320,801.2 L1318.3,803.4 L1317.2,805.8 L1315.8,808.1 L1316.5,811.1 L1316.2,813.7 L1315.2,816.1 L1314,818.5 L1312.4,820.6 L1311.3,822.9 L1312.3,825.9 L1309.8,827.7 L1310,830.4 L1309.5,832.9 L1307.1,834.7 L1307.7,837.6 L1305.9,839.6 L1305.9,842.3 L1305,844.6 L1304.4,847.1 L1301.5,848.7 L1300.8,851.1 L1300,853.5 L1299.4,856 L1299,858.5 L1297.2,860.5 L1295.6,862.6 L1293.7,864.5 L1292.5,867 L1291.7,869.7 L1289,871 L1288.9,873.7 L1287.9,876.1 L1286.2,878.2 L1284.8,880.4 L1285.1,883.2 L1284.5,885.7 L1283.8,888.2 L1282.4,890.4 L1281.2,892.8 L1280.9,895.4 L1280.9,898.1 L1278.4,899.9 L1280,903.2 L1278.4,905.3 L1278.5,908.1 L1276.9,910.3 L1275.1,912.4 L1274.1,914.8 L1274.4,917.5 L1273.5,920 L1271.9,922.1 L1270.8,924.5 L1272,927.6 L1269.2,929.4 L1269,932 L1269,934.7 L1269,937.3 L1268.7,940 L1269.7,942.7 L1268.4,945.3 L1268.5,948 L1270.5,950.7 L1269.6,954.2 L1271,957 L1270.5,960 L1272.5,962.1 L1274.2,964.4 L1273.8,967.4 L1274.5,970 L1275.7,972.4 L1277.2,974.7 L1278.5,977 L1277.6,979.5 L1276.3,981.9 L1273.1,983.1 L1273.4,986.3 L1272.3,988.7 L1269.8,990.3 L1269.5,993.2 L1266.4,994.5 L1265.9,997.3 L1265.8,1000.3 L1263.5,1002 L1262.1,1004.3 L1261.5,1006.9 L1262.3,1009.9 L1260,1011.9 L1258.5,1014.2 L1259.9,1017.5 L1256.2,1019 L1255.7,1021.6 L1256,1024.5 L1256.6,1027 L1254.9,1029.7 L1255.4,1032.1 L1257,1034.5 L1259.5,1032.9 L1262.1,1032.8 L1264.7,1034.6 L1267.2,1033.4 L1269.8,1034.1 L1272.3,1033.2 L1274.9,1033.2 L1277.4,1032.6 L1280,1032.9 L1282.5,1033.4 L1285.1,1032.5 L1287.6,1031.9 L1290.3,1034.4 L1292.8,1033.2 L1295.4,1034.6 L1297.9,1033.1 L1300.5,1033.5 L1303,1032.5 L1305.5,1031.7 L1308.2,1034.2 L1310.6,1031.8 L1313.2,1031.4 L1315.8,1032.3 L1318.4,1033.3 L1320.9,1031.5 L1323.4,1031.5 L1326,1032 L1327.3,1034.5 L1324.4,1037 L1324.5,1039.5 L1325.3,1042 L1325.8,1044.5 L1326,1047 L1328.1,1049 L1327,1052.5 L1329.1,1054.6 L1329.9,1057.2 L1332,1059.2 L1333.4,1061.6 L1333.5,1064.5"/>
<path d="M1321.5,794.5 L1366.5,786 L1516.5,771 L1583.5,761 L1661,751 L1773.5,728.5"/>
<path stroke-width="1.5" d="M1583.5,761 L1582.8,763.6 L1583.3,766.1 L1585.5,768.4 L1585.4,770.9 L1585,773.5 L1583.3,775.6 L1580.6,776.2 L1578.8,778.2 L1576.7,779.7 L1574.4,780.9 L1572.6,782.8 L1570.1,783.9 L1569.2,786.9 L1566.4,787.5 L1563.8,788.4 L1562.2,790.6 L1560.9,793.2 L1557.8,793.3 L1555.6,794.7 L1554.5,797.6 L1552.2,798.8 L1550.2,800.5 L1548.6,802.7 L1546,803.5 L1543.5,804.3 L1541.3,806 L1539,807.4 L1536.2,807.5 L1533.5,808.1 L1531.3,809.7 L1529,811 L1526.6,812.2 L1524.9,814.1 L1523.2,816.2 L1520.6,817.1 L1518.9,819.2 L1517.3,821.3 L1515.8,823.4 L1514,825.3 L1511,825.8 L1509.4,827.9 L1508.1,830.3 L1506.5,832.4 L1504,833.5 L1503.5,836.3 L1504,839.3 L1502.5,842"/>
<path d="M1299,861 L1371.5,857 L1459,847 L1502.5,842 L1539,838.5"/>
<path d="M1539,838.5 L1569,826 L1614,820 L1626.5,832 L1664,827 L1708.5,858.5"/>
<path stroke-width="1.5" d="M1538.5,842 L1539.4,845.2 L1538.5,848.5 L1540.5,850.2 L1542.4,851.9 L1545.5,851.9 L1547,854.3 L1548.7,856.4 L1551.6,856.8 L1553.5,858.5 L1556.2,859.4 L1556.6,862.8 L1559.4,863.5 L1560.8,865.8 L1562.8,867.4 L1565.2,868.6 L1566.3,871.3 L1568.3,872.9 L1571.6,873.1 L1573.6,874.7 L1574.1,878 L1576.8,878.9 L1579.4,879.8 L1579.8,883.2 L1582.1,884.5 L1584,886.3 L1586.8,886.9 L1588.1,889.3 L1590.7,890.4 L1591.5,893.3 L1594.2,894.1 L1596,896 L1597.6,898.1 L1599.8,899.7 L1600.8,902.5 L1602.8,904.2 L1605.4,905.4 L1606.5,908 L1609.4,908.9 L1610.7,911.3 L1613.5,912.2 L1615.3,914.2 L1617.2,916.1 L1618.5,918.5 L1619.3,921.2 L1620.2,923.8 L1621.5,926.4 L1620.4,929.5 L1622,932 L1624.8,933.1 L1628,933.5 L1630,936.4 L1633,937"/>
<path stroke-width="1.5" d="M1459,847 L1459.4,849.5 L1461,851.7 L1460.1,854.5 L1461.7,856.7 L1462.3,859.1 L1462.6,861.6 L1463,864.1 L1463.6,866.6 L1464.1,869 L1465.8,871.2 L1465.4,873.9 L1466.3,876.3 L1467.4,878.6 L1468.8,880.8 L1468.8,883.4 L1469.6,885.8 L1470.2,888.2 L1470.3,890.8 L1471.8,893 L1472.4,895.4 L1473.3,897.8 L1472.6,900.6 L1473.2,903 L1473.6,905.5 L1475.1,907.7 L1476.1,910 L1476.9,912.4 L1476.5,915.1 L1478.2,917.3 L1477.7,920 L1478.4,922.4 L1479.8,924.7 L1479.8,927.3 L1480.8,929.6 L1481.5,932 L1483.1,934.1 L1483.8,936.5 L1485.3,938.7 L1486.6,940.9 L1487.5,943.2 L1487.8,945.9 L1489.8,947.8 L1490,950.5 L1490.6,953 L1491.5,955.4 L1493.6,957.3 L1493.7,960 L1495.5,962 L1495.4,964.6 L1493.5,966.8 L1494.4,969.7 L1492.6,971.9 L1492.7,974.6 L1491,976.8 L1490.6,979.4 L1490.5,982 L1491.7,984.4 L1491.2,987.1 L1492,989.5 L1492.7,992 L1493.1,994.5 L1493.7,997 L1494,999.5 L1494.7,1002 L1496,1004.2 L1496.9,1006.7 L1498.4,1008.8 L1500.4,1010.7 L1500.4,1013.5 L1502.2,1015.5 L1503,1018"/>
<path d="M1371.5,857 L1371.5,932 L1377,1054.5"/>
<path d="M1402,1058 L1400,1026 L1498,1017 L1603,1020.8 L1610.5,1009.5 L1625.5,1010.8 L1630.5,1017"/>
<path stroke-width="1.5" d="M1369,566 L1368.5,568.5 L1368.5,571 L1370,573.5 L1369.9,576 L1369.7,578.5 L1370.4,581 L1370.7,583.5 L1369.5,586 L1370.5,588.5 L1369.8,591 L1369.5,593.5 L1370.6,596 L1370.1,598.5 L1371.6,601 L1370.2,603.5 L1371.7,606 L1370.5,608.5 L1371.3,611 L1370.5,613.5 L1371.1,616 L1371.7,618.5 L1372.5,621 L1372.8,623.5 L1371.4,626 L1372,628.5 L1372.8,631 L1372.8,633.5 L1372.3,636 L1372.6,638.5 L1372.7,641 L1372.8,643.5 L1372.3,646 L1374.1,648.5 L1372.5,651 L1373.1,653.5 L1372.6,656 L1374.3,658.5 L1374.7,661 L1374.3,663.5 L1374,666 L1374.8,668.4 L1374.3,671 L1375,673.5 L1375.8,675.9 L1375.5,678.5 L1374.4,681.1 L1374.6,683.6 L1375.3,686 L1376.3,688.5 L1376.8,690.9 L1375.6,693.6 L1376.5,696 L1375.7,698.6 L1374.1,700.7 L1372.2,702.6 L1371.5,705.2 L1369.6,707.2 L1368.9,709.8 L1367,711.7 L1364.9,713.5 L1364,716 L1363.3,718.5 L1363.4,721 L1363.7,723.5 L1363,726 L1364.8,728.5 L1364,731"/>
<path stroke-width="1.5" d="M1364,731 L1363.1,733.4 L1362.4,735.9 L1361.8,738.3 L1362.2,741 L1363,743.6 L1360.6,745.8 L1361.5,748.5 L1358.8,749.1 L1357.4,751.3 L1355.6,753.1 L1353.4,754.3 L1351.5,756 L1351.6,758.5 L1350.7,761 L1350.9,763.5 L1351.5,766 L1349.1,765.3 L1346.5,765.2 L1344,764.9 L1341.4,765.7 L1338.9,764.9 L1336.4,765 L1334.1,762.9 L1331.5,763.5 L1331.7,766.2 L1330.5,768.6 L1330,771.1 L1329,773.5"/>
<path stroke-width="1.5" d="M1364,731 L1366.7,732 L1369,730.1 L1371.4,729.1 L1374.2,731.1 L1376.6,730.3 L1379,729.5 L1381.6,729.9 L1384,728.5 L1386.4,729.8 L1389.5,729.3 L1391.2,732.2 L1393.9,732.8 L1396.5,733.5 L1399,732.4 L1399.6,729.4 L1402.8,729.1 L1404.1,726.8 L1405,724.2 L1407.3,722.9 L1409,721 L1410.2,718.5 L1412.7,717.6 L1415.4,717.1 L1416.7,714.6 L1419,713.5 L1421.3,714.6 L1422.3,717.5 L1424.3,718.9 L1426.7,719.9 L1429,721 L1429.8,718.6 L1431.8,716.7 L1433.1,714.5 L1431.9,711.2 L1433,708.9 L1433.9,706.5 L1435.2,704.3 L1436.8,702.3 L1437.6,699.8 L1438.2,697.3 L1440.9,695.7 L1440.3,692.7 L1442.7,691 L1442.2,688 L1444,686 L1446.7,686.1 L1449,684.8 L1451.6,684.7 L1454.1,684.3 L1456.4,682.7 L1459.1,683.1 L1461.4,681.6 L1464.3,682.8 L1466.5,681 L1465.7,678.5 L1467.8,676 L1466.1,673.5 L1467.3,671 L1465.3,668.5 L1466.5,666"/>
<path d="M1366.5,566 L1388.3,562.3 L1452.7,554.8 L1495.2,549.2"/>
<path d="M1452.7,554.8 L1466.5,666"/>
<path stroke-width="1.5" d="M1466.5,666 L1469,666.7 L1471.5,667.1 L1473.8,668.4 L1476.3,669.1 L1479,668.5 L1480.5,671 L1483.1,672.4 L1484.9,674.6 L1486.5,677 L1489,678.5 L1491.5,678.7 L1494,678 L1496.5,677.8 L1499,679.6 L1501.5,677.4 L1504,677.4 L1506.5,678.6 L1509,677.7 L1511.5,677.9 L1514,678.8 L1516.5,679.1 L1519,678.6 L1521.5,679.6 L1524,678.7 L1526.5,678.1 L1529,678.5 L1531.2,680.5 L1534.4,680.9 L1536.5,683 L1538.8,684.8 L1541.5,686"/>
<path stroke-width="1.5" d="M1541.5,686 L1543.3,684.2 L1545.9,683.1 L1546.5,680.1 L1548.5,678.5 L1550.1,676.4 L1551.8,674.5 L1555,674 L1555.4,670.8 L1558,669.7 L1559.5,667.6 L1561.5,666 L1563.5,663.9 L1562.5,660.6 L1563.6,658.1 L1565.3,655.9 L1565.4,653.1 L1567.2,650.9 L1569.1,648.7 L1568.3,645.5 L1570.7,643.6 L1571.5,641 L1573.7,639.4 L1574.7,636.4 L1577.9,635.7 L1578.5,632.4 L1581.9,631.9 L1582.5,628.7 L1585.8,628.1 L1587.8,626.2 L1589,623.5 L1588.7,620.9 L1588.5,618.3 L1588.9,615.9 L1589.4,613.4 L1591.3,611.1 L1590.4,608.4 L1590.4,605.9 L1592.5,603.6 L1592.3,601 L1591.3,598.4 L1591.5,595.8 L1592.3,593.4 L1594.1,591.1 L1594.7,588.6 L1594,586"/>
<path d="M1585.3,526 L1592.6,570 L1594,586 L1601.5,621"/>
<path d="M1601.5,621 L1636,616 L1676,610 L1753.5,593.5"/>
<path d="M1636,618 L1638.5,638.5 L1650,628 L1662,625 L1676,610"/>
<path stroke-width="1.5" d="M1676,610 L1678.8,610.2 L1681.1,611.7 L1683.8,612.3 L1685.9,614.2 L1688.3,615.5 L1691,616 L1691.4,618.5 L1691.7,621 L1691.5,623.6 L1692.1,626.1 L1693.2,628.5 L1693.5,631 L1696.1,630.9 L1698.7,630.9 L1701.2,631.2 L1703.7,631.6 L1706,632.9 L1708.5,633.5 L1711,633.8 L1713.4,635.1 L1715.9,635.5 L1718.3,636.2 L1720.8,636.6 L1723.5,636 L1721.6,638.3 L1721.5,641.6 L1718.8,643.4 L1716.6,645.5 L1716,648.5 L1718.6,649.4 L1720,652.1 L1722.3,653.5 L1725.3,653.9 L1727.4,655.6 L1729.2,657.7 L1731.6,659.1 L1733.5,661 L1735.8,662.5 L1739,662 L1740.9,664.4 L1743.6,665 L1745.6,667.4 L1748.5,667.5 L1751,668.5"/>
<path stroke-width="1.5" d="M1676,610 L1675.1,612.7 L1674.1,615.4 L1673.9,618.3 L1671.5,620.5 L1671.5,623.5 L1670,625.6 L1669.2,627.9 L1667.4,629.8 L1666.4,632.1 L1664.8,634.1 L1664.5,636.7 L1664.2,639.5 L1661.6,640.9 L1661,643.4 L1659.5,645.4 L1659.5,648.2 L1657.4,650 L1655.6,651.8 L1654.2,653.9 L1653.2,656.2 L1652.1,658.5 L1651.5,661 L1649.5,662.6 L1646.9,663.4 L1645,665.2 L1643.1,666.9 L1641.9,669.5 L1640.3,671.5 L1638.1,672.9 L1635.6,674 L1634,676 L1633.2,678.5 L1632.7,681.1 L1631.8,683.5 L1630.2,685.8 L1630.9,688.7 L1629.7,691.1 L1628,693.3 L1627.5,695.9 L1628.1,698.8 L1626.8,701.2 L1624.5,703.2 L1624.5,705.9 L1624,708.5 L1622.3,710.7 L1619.7,711.7 L1617.2,712.9 L1615,714.3 L1613.1,716.3 L1611,717.8 L1609.4,720.1 L1607.3,721.8 L1605.6,724 L1603.4,725.5 L1600.4,726 L1599,728.5 L1596.7,729.9 L1594,729.5 L1591.3,729.2 L1588.9,730.5 L1586.3,730.2 L1584,731.7 L1581.7,733.5 L1579.2,733.7 L1576.5,733.5 L1574.9,731.1 L1572.3,729.7 L1570.6,727.4 L1568.6,725.4 L1566.5,723.5"/>
<path stroke-width="1.5" d="M1541.5,686 L1543,688.3 L1542,691.2 L1543.9,693.4 L1544.6,695.9 L1544.6,698.5 L1545,701.1 L1544.9,703.7 L1546.5,706 L1548.8,707.4 L1550.6,709.4 L1552.9,710.8 L1554.6,712.9 L1556.7,714.5 L1558,717.1 L1561.1,717.6 L1562.4,720.1 L1564.3,722 L1566.5,723.5"/>
<path stroke-width="1.5" d="M1566.5,723.5 L1564.8,725.5 L1563.4,727.6 L1561.6,729.5 L1560.1,731.7 L1557.9,733.2 L1557.3,736 L1555.6,738 L1554,740 L1552.8,742.4 L1551.1,744.4 L1549,746 L1547.5,748.3 L1545.5,749.8 L1543.3,751.2 L1540.3,751.5 L1538.6,753.4 L1536.5,754.9 L1535.3,757.6 L1532.7,758.4 L1530.6,759.9 L1528.9,762 L1527.1,763.7 L1524.6,764.7 L1522.4,766.1 L1521,768.4 L1519.1,770.1 L1516.5,771"/>
<path d="M1608.6,511.5 L1608.6,520.2 L1719.7,499.1 L1747,494 L1756,502.5 L1771,514"/>
<path d="M1771,514 L1801,522.5 L1803.5,532.5"/>
<path stroke-width="1.5" d="M1771,514 L1770.8,516.7 L1769.1,518.8 L1768.6,521.4 L1768,523.9 L1767.7,526.5 L1765.5,528.5 L1764.3,530.8 L1764.7,533.7 L1763.5,536 L1762.9,538.5 L1762.6,541 L1763,543.5 L1763.5,546 L1763.5,548.5 L1766,549.8 L1767.1,552.7 L1769.7,553.9 L1772.2,555.2 L1774,557.3 L1775.4,559.7 L1777.9,561 L1779.4,563.5 L1782,564.7 L1783.5,567 L1781.7,569.1 L1780.1,571.4 L1777.8,573.2 L1776.4,575.6 L1773.8,577 L1771.6,578.8 L1769.7,580.8 L1768.5,583.5 L1766.3,585.3 L1763.2,584.6 L1761.2,586.9 L1758.2,586.8 L1756,588.5 L1754.5,590.9 L1753.5,593.5"/>
<path d="M1753.5,593.5 L1768.5,645 L1786,642"/>
<path d="M1778.5,354 L1785,376 L1783.5,390 L1791,412.5 L1801,447.5"/>
<path d="M1801,447.5 L1826,441 L1866,432.5 L1875,422.5"/>
<path stroke-width="1.5" d="M1832,335 L1831.6,337.5 L1831.5,340.1 L1832.3,342.5 L1833,345 L1833.3,347.5 L1833.5,350 L1833.9,352.4 L1832.7,355 L1833.5,357.5 L1832.9,360.2 L1830,361.3 L1829.5,364.1 L1827.8,366.1 L1826.3,368.2 L1824.8,370.3 L1823.5,372.5 L1824.4,375 L1822.7,377.5 L1823.3,380 L1823.7,382.5 L1823.1,385 L1823.5,387.5 L1823.5,390 L1823.7,392.5 L1822.7,395 L1823.5,397.5 L1822.5,400 L1822.2,402.5 L1822.1,405 L1822.4,407.5 L1822,410 L1823.3,412.5 L1822.6,415.2 L1824,417.6 L1823.5,420.3 L1824.5,422.8 L1824.3,425.5 L1823.4,428.2 L1825.5,430.6 L1824.6,433.3 L1826,435.8 L1826,438.4 L1826,441"/>
<path d="M1841,332.5 L1873.5,412.5 L1876,422.5"/>
<path d="M1801,447.5 L1803.5,477.5 L1811,515"/>
<path d="M1803.5,477.5 L1856,466 L1868.5,464 L1873,470"/>
<path d="M1856,466 L1862,492.5"/>
</g>
<path fill="none" stroke="#585858" stroke-width="1.3" stroke-linejoin="round" d="M281,166 L292,173 L312,188 L326,186 L328,172 L335,162 L340,158 L481,195 L500,199 L527,205 L627,225 L692,234.5 L867,255.5 L967,262.5 L1061,264.5 L1121,264.5 L1121,249 L1128,250 L1134,275 L1160,284.9 L1171.4,279.8 L1182.7,279.2 L1191.8,283.2 L1200.9,294.6 L1207.8,290 L1221.4,298 L1226,302 L1243,292.9 L1251,298.6 L1266.9,297.4 L1276,302 L1281.7,300.8 L1290.8,287.8 L1291.9,280.9 L1302.1,274.1 L1319.5,257.2 L1326,255 L1360.3,261.5 L1371.1,261.5 L1390.4,291.6 L1418.3,291.6 L1418.3,304.5 L1429.1,315.2 L1431.2,332.4 L1437.7,334.5 L1437.7,349.6 L1448.7,354.5 L1483.6,356.7 L1524.3,355.3 L1551.9,358.9 L1563.5,371.2 L1576.6,379.2 L1591.1,402.5 L1579.5,404 L1583.9,415.6 L1566.4,414.1 L1556.2,409.7 L1550.4,402.5 L1540.3,390.9 L1527.2,391.6 L1544.6,415.6 L1534.4,441.7 L1538.8,466.4 L1519.9,491.1 L1523.6,512.9 L1504,534.7 L1524.3,537.6 L1527.2,527.4 L1544.6,508.5 L1560.6,499.8 L1594,499.1 L1588.2,491.1 L1614.4,481.7 L1630.4,481 L1623,466.4 L1599.8,463.5 L1604.2,449 L1617.3,438.8 L1658,422.8 L1678.3,414.1 L1710.3,392.3 L1719,377.8 L1733.5,364 L1792,350 L1831,340 L1832,334 L1841,332.5 L1853.5,315 L1857,290 L1856,262.5 L1858.5,245 L1868.5,220 L1874,220 L1882,229 L1894.5,219 L1910,221 L1916,225 L1931,275 L1941,282.5 L1953.5,297.5 L1966,307.5 L1958,318 L1946,330 L1930,338 L1911,357.5 L1898,366 L1886,380 L1881,390 L1876,415 L1878.5,422.5 L1883.5,430 L1876,445 L1886,455 L1895,465 L1906,466 L1914,461 L1917,453 L1911,448 L1905,449 L1913,455 L1913,463 L1900,472 L1885,478 L1873.5,485 L1861,495 L1811,515 L1803,535 L1796,546 L1806,561 L1805,586 L1791,618.5 L1775,607 L1765,603 L1776,616 L1786,631 L1788.5,653.5 L1781,676 L1772,706 L1763.5,716 L1771,711 L1773.5,728.5 L1796,753.5 L1803.5,781 L1790,795 L1776,811 L1761,813.5 L1741,826 L1731,856 L1708.5,858.5 L1693.5,881 L1688.5,898.5 L1661,918.5 L1641,932 L1633,937 L1643,952 L1628,982 L1628,1014.5 L1630.5,1017 L1635.5,1032 L1650.5,1062 L1665.5,1087 L1680.5,1107 L1703,1152 L1710.5,1167 L1713,1207 L1710.5,1227 L1698,1242 L1680.5,1239.5 L1673,1222 L1650.5,1212 L1640.5,1192 L1628,1179.5 L1613,1157 L1595.5,1127 L1598,1102 L1588,1082 L1563,1064.5 L1530.5,1054.5 L1508,1072 L1493,1072 L1490.5,1062 L1470.5,1052 L1433,1047 L1408,1059.5 L1378.5,1054.5 L1346,1057 L1336,1064.5 L1328.5,1074.5 L1346,1072 L1333.5,1094.5 L1356,1107 L1341,1117 L1316,1109.5 L1286,1117 L1271,1107 L1256,1094.5 L1243.5,1089.5 L1238.5,1097 L1213.5,1094.5 L1196,1089.5 L1176,1092 L1146,1107 L1108.5,1132 L1071,1152 L1046,1182 L1038.5,1207 L1046,1232 L1051,1254.5 L1041,1258 L1028.5,1252 L1003.5,1244.5 L976,1232 L963.5,1202 L961,1184.5 L951,1174.5 L931,1144.5 L921,1114.5 L896,1088 L864,1082 L846.5,1084.5 L839,1102 L826.5,1114.5 L809,1107 L781.5,1087 L774,1074.5 L771.5,1057 L764,1037 L739,1017 L721.5,992 L711.5,984.5 L654,978 L651.5,996 L546.5,982 L460,932 L422.5,901 L430,898.5 L340,889 L337.5,858.5 L322.5,833.5 L310,827 L307.5,816 L285,803.5 L275,791 L255,782 L246,781 L241,773.5 L246,753.5 L240,736 L220,693.5 L218.5,681 L227.5,668.5 L212.5,636 L217.5,618.5 L202.5,610 L205,598.5 L190,563.5 L195,536 L189,510 L190,495 L204,475 L210,460 L211,440 L212.5,415 L215,395 L230,380 L242,352.5 L252,325 L267.5,290 L274,260 L280,245 L276,227.5 L279,202.5 L275,177.5Z"/>
<path fill="#fff" stroke="#585858" stroke-width="1.4" d="M1806,527 L1830,517 L1861,503 L1864,507 L1840,521 L1812,533Z"/>
<g fill="none" stroke="#505050" stroke-linejoin="round" stroke-linecap="round">
<path stroke-width="2.6" d="M1966,307.5 L1965.3,311.1 L1961.8,312.6 L1960.7,315.9 L1958,318 L1955.1,319.9 L1952.6,322.2 L1952.8,327.2 L1950.6,329.8 L1946,330 L1941.8,329.7 L1940.3,334.6 L1937.2,336.3 L1931.8,333.6 L1930,338 L1928,340.3 L1924.2,340.8 L1923.8,344.6 L1920.9,346 L1921,350.4 L1916.7,350.4 L1913.5,351.5 L1913,355.2 L1911,357.5 L1907.6,357.9 L1905.2,360 L1904.7,364.9 L1899.7,362.9 L1898,366 L1895.6,368 L1895,371.5 L1894.3,375 L1888.2,373.8 L1888.1,377.8 L1886,380 L1883.1,382.7 L1880.5,385.6 L1881,390 L1879,392.9 L1877.1,395.7 L1879.8,399.5 L1876.6,402.1 L1878.2,405.7 L1874.5,408.2 L1874.2,411.4 L1876,415 L1879.7,417.9 L1878.5,422.5"/>
<path stroke-width="2.2" d="M1878.5,422.5 L1879.9,425.2 L1881.3,427.8 L1883.5,430 L1880.8,432.4 L1881.4,436.4 L1878.4,438.7 L1876,441.2 L1876,445 L1877.2,448.8 L1882,449 L1883,453 L1886,455 L1887.9,457.8 L1890.5,460 L1891.2,463.9 L1895,465 L1898.7,465.5 L1902.4,465.4 L1906,466 L1909.7,466 L1911.6,463.2 L1914,461 L1914.7,456.7 L1917,453 L1913.5,451.1 L1911,448 L1908,448.5 L1905,449 L1908.8,449.4 L1910,453.4 L1913,455 L1912,459 L1913,463 L1910.6,465.1 L1906.9,465.3 L1904.1,466.9 L1902.5,470 L1900,472 L1896.7,472.5 L1894.6,476 L1891.7,477.4 L1887.2,474.8 L1885,478 L1882.6,480.6 L1879.9,482.6 L1875.5,481.8 L1873.5,485 L1870.3,486.1 L1869.5,490.3 L1866.5,491.6 L1864.2,493.9 L1861,495 L1858.4,497.1 L1855.9,499.4 L1852.1,498.4 L1849.6,500.5 L1846.5,501.3 L1843.9,503.3 L1841,504.8 L1838.2,506.3 L1833.9,504.1 L1831.2,505.8 L1828.5,507.7 L1826.3,510.7 L1823.3,511.7 L1820.4,513 L1817.2,513.4 L1814.7,515.6 L1811,515 L1810.8,518.2 L1809.9,521.2 L1808.8,524.1 L1805.8,526.2 L1805.5,529.4 L1804.3,532.2 L1803,535"/>
<path stroke-width="1.8" d="M1803,535 L1801.7,538 L1800.2,540.9 L1797.9,543.4 L1796,546 L1798.2,548.1 L1800.1,550.5 L1801.2,553.4 L1802,556.5 L1803.8,558.8 L1806,561 L1805.3,564.1 L1806.3,567.3 L1805.6,570.4 L1805.9,573.5 L1806,576.7 L1806,579.8 L1805.7,582.9 L1805,586 L1802.9,588.6 L1801.9,591.6 L1800.6,594.6 L1799.4,597.6 L1799.2,601 L1797.7,603.9 L1795.9,606.6 L1794.4,609.5 L1792.9,612.3 L1791.6,615.2 L1791,618.5 L1787.9,617.3 L1785.8,614.5 L1783.2,612.5 L1780.3,610.8 L1777.3,609.4 L1775,607 L1771.6,605.7 L1768,605.1 L1765,603 L1766.5,606.2 L1768.8,608.7 L1771.5,610.9 L1774.1,613.1 L1776,616 L1777,619 L1779.2,621.1 L1780.4,623.9 L1782.1,626.4 L1784.3,628.5 L1786,631 L1786.5,634.2 L1786.5,637.5 L1787.2,640.6 L1788.1,643.8 L1788.2,647 L1787.5,650.4 L1788.5,653.5 L1788.3,657 L1787.2,660.2 L1785,663.1 L1784.6,666.5 L1783.1,669.5 L1782.1,672.8 L1781,676 L1780.4,679.1 L1778.2,681.7 L1778.9,685.2 L1777.6,688.1 L1777.1,691.2 L1775.3,693.9 L1775.1,697.1 L1774.1,700.1 L1772.4,702.9 L1772,706 L1770.1,708.7 L1767.7,710.9 L1765,713 L1763.5,716"/>
<path stroke-width="2.0" d="M1763.5,716 L1766.2,714.7 L1768.9,713.3 L1771,711 L1770.6,714.6 L1770.6,718.2 L1771.7,721.6 L1771.7,725.2 L1773.5,728.5 L1776.7,729.8 L1777.7,733 L1778.6,736.3 L1781.3,737.9 L1782.8,740.7 L1786.7,741.3 L1787.9,744.3 L1790.5,746.1 L1791.8,749 L1793.8,751.4 L1796,753.5 L1798.3,756.1 L1798.5,759.4 L1799.2,762.5 L1798,766.1 L1799.3,769 L1802.1,771.5 L1800.9,775.1 L1803.8,777.6 L1803.5,781 L1801,783.1 L1799.9,786.5 L1797.9,789.1 L1793.6,789.5 L1792.9,793.3 L1790,795 L1788.7,797.9 L1784.8,798.6 L1783.1,801.1 L1782.5,804.6 L1778.9,805.5 L1777.9,808.6 L1776,811 L1772.9,810.9 L1770.2,812.9 L1766.8,811.1 L1763.9,812.4 L1761,813.5 L1757.4,814 L1754.6,816 L1752.8,819.4 L1749.8,821 L1747.3,823.3 L1744.5,825.2 L1741,826 L1741.3,829.4 L1739.6,832.2 L1737.7,834.9 L1738.5,838.5 L1735.5,840.8 L1735.5,844.2 L1734.6,847.2 L1732,849.7 L1732.1,853 L1731,856 L1727.9,856.9 L1724.6,856.8 L1721.3,856.4 L1718.3,858.8 L1714.8,856.3 L1711.9,859.7 L1708.5,858.5 L1706.2,860.6 L1704.2,862.9 L1704.8,866.9 L1701.1,868 L1700.5,871.2 L1698.3,873.4 L1698.1,876.9 L1696.4,879.3 L1693.5,881 L1693.6,884.2 L1690.4,886.4 L1691.9,890 L1689.4,892.4 L1688,895.2 L1688.5,898.5 L1685.2,899.2 L1683.8,902.5 L1681.3,904.3 L1678.5,905.7 L1675.5,906.9 L1674.2,910.4 L1670.5,910.6 L1667.9,912.3 L1665.3,913.9 L1664.4,917.9 L1661,918.5 L1657.7,919 L1656.7,923 L1653.8,924 L1650.8,925 L1647.8,925.8 L1646.3,929 L1642.7,929.2 L1641,932 L1638.3,933.5 L1636,935.8 L1633,937 L1635.2,939.2 L1637.2,941.4 L1639.1,943.8 L1640.6,946.4 L1640.8,949.8 L1643,952 L1640.2,954 L1641.2,957.9 L1640.2,960.8 L1636.2,962.2 L1636.1,965.6 L1635.1,968.5 L1634.2,971.5 L1631.8,973.7 L1629.8,976.1 L1629.5,979.3 L1628,982 L1628.3,985.2 L1629.4,988.5 L1626.7,991.8 L1629.5,995 L1628,998.2 L1626.9,1001.5 L1629.2,1004.8 L1627.3,1008 L1626.6,1011.2 L1628,1014.5"/>
<path stroke-width="2.4" d="M1628,1014.5 L1630.5,1017 L1630.6,1020.3 L1631.5,1023.3 L1633.5,1026 L1635.2,1028.8 L1635.5,1032 L1638.3,1034 L1637.8,1037.7 L1639.7,1040.1 L1640.2,1043.3 L1642.7,1045.5 L1642.9,1048.8 L1645.7,1050.8 L1645.5,1054.3 L1647.1,1056.9 L1649.4,1059.1 L1650.5,1062 L1652.1,1064.8 L1653.3,1067.9 L1656.3,1069.8 L1657,1073.2 L1658,1076.4 L1661.1,1078.3 L1661.3,1081.9 L1663.3,1084.5 L1665.5,1087 L1666.5,1090.2 L1669.7,1091.7 L1672.2,1093.7 L1672.2,1097.6 L1674.1,1100.1 L1676.9,1101.9 L1679.7,1103.7 L1680.5,1107 L1682.8,1109.4 L1682.9,1112.8 L1685.3,1115.1 L1684.8,1118.9 L1687.3,1121.2 L1689.8,1123.4 L1689.9,1126.9 L1692.1,1129.3 L1691.9,1132.9 L1693.4,1135.7 L1695.9,1138 L1697,1141 L1698.2,1143.8 L1699.3,1146.8 L1700.2,1149.9 L1703,1152 L1705.8,1154.3 L1706.4,1157.8 L1707.2,1161.1 L1709.6,1163.7 L1710.5,1167 L1710.4,1170.1 L1712.2,1173.1 L1709.9,1176.3 L1711.2,1179.3 L1712.7,1182.3 L1711.1,1185.5 L1712.4,1188.5 L1713,1191.6 L1712.3,1194.7 L1713.6,1197.7 L1713.5,1200.8 L1711.6,1204 L1713,1207 L1712,1210.3 L1713.7,1213.9 L1710.9,1216.9 L1712.9,1220.5 L1711.4,1223.7 L1710.5,1227 L1707.4,1228.7 L1706,1231.8 L1704.7,1234.9 L1702.5,1237.3 L1700.4,1239.7 L1698,1242 L1694.3,1242.7 L1691.2,1239.4 L1687.3,1241.9 L1684,1240.2 L1680.5,1239.5 L1680,1236.3 L1677.7,1233.8 L1678.2,1230.1 L1674.8,1228.2 L1675.7,1224.3 L1673,1222 L1670.7,1219.6 L1667.6,1219 L1665.1,1217.1 L1661.7,1217.2 L1659.4,1214.8 L1656.5,1213.6 L1653.3,1213.2 L1650.5,1212 L1649,1209.2 L1648.2,1206 L1646,1203.6 L1643.6,1201.2 L1644.1,1197.4 L1641.3,1195.2 L1640.5,1192 L1638,1189.5 L1636.1,1186.4 L1632.3,1185.2 L1629.4,1183.1 L1628,1179.5 L1625.3,1177.7 L1624.9,1174.3 L1622.6,1172.2 L1620.7,1169.9 L1619.5,1167.1 L1619.1,1163.7 L1615.7,1162.4 L1614.4,1159.7 L1613,1157 L1612.5,1153.7 L1610.1,1151.4 L1607.6,1149.2 L1606.6,1146.1 L1605,1143.4 L1602.5,1141.2 L1601.5,1138.1 L1599.7,1135.5 L1599.5,1132 L1596.6,1130 L1595.5,1127 L1596.3,1123.9 L1597.6,1120.9 L1597.8,1117.8 L1596.4,1114.5 L1597.4,1111.4 L1596.8,1108.2 L1597.4,1105.1 L1598,1102 L1596.5,1099.2 L1596,1095.9 L1595,1092.8 L1591.7,1090.9 L1589.4,1088.4 L1589.3,1084.9 L1588,1082 L1584.7,1081.4 L1582.1,1079.7 L1581,1076 L1577.3,1076 L1575.9,1072.7 L1572.7,1071.9 L1571.3,1068.6 L1568.6,1067.1 L1564.7,1067.4 L1563,1064.5 L1559.8,1064.5 L1557.5,1061.3 L1554.2,1061.4 L1551.1,1061.1 L1548.5,1059.1 L1545.6,1058.1 L1542.3,1058.2 L1539.3,1057.3 L1536,1057.5 L1533.3,1055.8 L1530.5,1054.5 L1528.7,1057.3 L1525.3,1058.1 L1522.8,1060.1 L1521.2,1063.2 L1517.7,1063.9 L1516.3,1067.2 L1513.8,1069.1 L1510.2,1069.7 L1508,1072 L1505,1072.1 L1502,1070.7 L1499,1071.6 L1496,1071.4 L1493,1072 L1491,1069 L1492.4,1065.1 L1490.5,1062 L1487,1061.8 L1485,1058.8 L1482.5,1056.5 L1479.7,1055.1 L1476.8,1053.7 L1473.3,1053.6 L1470.5,1052 L1467.5,1051 L1464.4,1050.2 L1461,1051.9 L1458.2,1048.9 L1455,1048.6 L1451.7,1049.7 L1448.7,1048.2 L1445.5,1048.8 L1442.3,1049 L1439.3,1047.2 L1435.9,1048.8 L1433,1047 L1429.8,1047.5 L1426.8,1048.4 L1425,1051.8 L1421.3,1051.3 L1419.7,1055.1 L1415.8,1054.3 L1413.9,1057.4 L1410.1,1056.8 L1408,1059.5"/>
<path stroke-width="2.6" d="M1408,1059.5 L1404.6,1059.4 L1401.3,1059.4 L1398.2,1057.4 L1394.7,1058.5 L1391.6,1056.6 L1388.3,1056.5 L1384.8,1056.8 L1381.8,1055 L1378.5,1054.5 L1375.3,1056 L1372,1055.2 L1368.8,1056.5 L1365.6,1056.6 L1362.3,1056 L1358.9,1055.1 L1355.8,1057.3 L1352.6,1057.3 L1349.2,1056.4 L1346,1057 L1342.7,1057.9 L1340.9,1060.6 L1338.7,1062.9 L1336,1064.5 L1333.1,1066.2 L1333.3,1070.3 L1329.6,1071.4 L1328.5,1074.5 L1331.9,1073.4 L1335.4,1072.5 L1338.8,1071.9 L1342.4,1072 L1346,1072 L1343.7,1074.4 L1343.7,1078.1 L1341.1,1080.3 L1339.4,1083.1 L1338.5,1086.2 L1336.5,1088.8 L1336.1,1092.3 L1333.5,1094.5 L1336.9,1095 L1339.5,1096.9 L1341.7,1099.6 L1344.8,1100.6 L1347.8,1101.9 L1350.3,1104.1 L1353.3,1105.3 L1356,1107 L1353.8,1109.1 L1350.5,1109.6 L1348.2,1111.5 L1346.4,1114.3 L1343.4,1115.2 L1341,1117 L1337.9,1116 L1335.1,1114.1 L1331.8,1113.6 L1328.3,1113.8 L1325.8,1111 L1321.9,1112.4 L1319.1,1110.7 L1316,1109.5 L1312.8,1109.6 L1310.2,1111.9 L1307,1111.8 L1304.3,1113.8 L1300.9,1112.8 L1297.8,1113.3 L1295,1114.6 L1291.7,1114.5 L1289.1,1116.8 L1286,1117 L1283.8,1114.9 L1281.1,1113.4 L1278.6,1111.8 L1275.9,1110.4 L1274,1107.9 L1271,1107 L1269.3,1104 L1266,1102.9 L1263.8,1100.4 L1260.2,1099.6 L1258.9,1096.1 L1256,1094.5 L1253,1092.9 L1250.3,1090.7 L1247,1089.9 L1243.5,1089.5 L1242.3,1092.3 L1240.4,1094.7 L1238.5,1097 L1235.4,1096.2 L1232.1,1097.7 L1229.1,1096.2 L1225.9,1096.7 L1222.8,1096.5 L1219.6,1096.4 L1216.7,1094.1 L1213.5,1094.5 L1210.3,1094.7 L1207.5,1093.5 L1204.7,1092.3 L1202.1,1090.2 L1198.6,1091.5 L1196,1089.5 L1192.7,1090.1 L1189.3,1090.2 L1185.9,1089.7 L1182.6,1090.3 L1179.2,1090.6 L1176,1092 L1173.6,1093.9 L1170.7,1094.9 L1168,1096.4 L1164.6,1096.5 L1161.8,1097.7 L1160.1,1101.1 L1157.3,1102.4 L1154.5,1103.6 L1151.8,1104.9 L1148.7,1105.7 L1146,1107 L1143.4,1108.5 L1141.4,1110.9 L1139.3,1113.2 L1136.1,1113.9 L1133.7,1115.6 L1130.9,1116.8 L1127.8,1117.6 L1125.7,1119.9 L1123.5,1122 L1120.8,1123.4 L1118.2,1124.9 L1116.7,1128 L1112.9,1127.7 L1110.6,1129.7 L1108.5,1132 L1105.3,1132.5 L1102.8,1134.1 L1100.6,1136.6 L1097.9,1138 L1095.6,1140.1 L1092.3,1140.2 L1090.3,1143.1 L1087.6,1144.5 L1084.8,1145.6 L1082.2,1147.1 L1079.2,1148.1 L1076.9,1150.2 L1074.3,1151.8 L1071,1152 L1069.8,1154.9 L1068,1157.3 L1065.5,1159.2 L1064.3,1162.1 L1060.6,1162.9 L1059.2,1165.6 L1058.3,1168.8 L1056.1,1170.9 L1054,1173 L1052.1,1175.3 L1050.7,1178.1 L1047.2,1179.1 L1046,1182 L1043.7,1184.7 L1044.2,1188.3 L1043.2,1191.4 L1043.4,1194.8 L1042.4,1197.9 L1040.8,1200.9 L1040.1,1204.1 L1038.5,1207 L1038.6,1210.4 L1041.3,1213 L1042.6,1216 L1041,1219.9 L1043.1,1222.6 L1045.1,1225.5 L1044.9,1228.9 L1046,1232 L1048,1234.9 L1047.4,1238.4 L1046.8,1241.9 L1047.9,1245.1 L1049,1248.2 L1050.9,1251.1 L1051,1254.5"/>
<path stroke-width="2.2" d="M1051,1254.5 L1048,1256.5 L1043.8,1255.4 L1041,1258 L1037.4,1257.6 L1035,1254.4 L1031.1,1254.7 L1028.5,1252 L1025.1,1251.8 L1022.7,1248.6 L1018.9,1250.1 L1016.1,1247.8 L1012.8,1247.4 L1009.7,1246.5 L1006.6,1245.5 L1003.5,1244.5 L1000.3,1244.1 L998.4,1241 L994.7,1241.9 L992.1,1240.3 L989.1,1239.6 L986.7,1237.7 L984.1,1236 L982,1233.3 L978.6,1233.6 L976,1232 L973.6,1229.5 L972.8,1226.3 L973.7,1222.4 L969.7,1220.5 L970.1,1216.9 L968.1,1214.2 L967.7,1210.8 L965.5,1208.2 L965.3,1204.8 L963.5,1202 L963,1198.5 L963,1194.9 L963.3,1191.3 L961.8,1188 L961,1184.5 L957.7,1182.8 L955,1180.5 L954.5,1176 L951,1174.5 L949.3,1172 L946.9,1170 L947.2,1166.2 L944.5,1164.4 L943.3,1161.6 L942,1158.8 L938.8,1157.4 L937.3,1154.8 L937,1151.3 L933.4,1150.1 L933.4,1146.5 L931,1144.5 L928.8,1141.9 L929.6,1138.3 L928.6,1135.3 L928.4,1132 L927,1129.2 L925,1126.5 L923.1,1123.8 L921.9,1120.9 L922.1,1117.5 L921,1114.5 L918.9,1112.3 L915.8,1111 L915.7,1107 L912.7,1105.7 L911.1,1103 L907.8,1101.9 L905.8,1099.6 L903.2,1097.9 L901.9,1095 L899.6,1092.9 L897.9,1090.4 L896,1088 L892.7,1087.8 L889.8,1085.7 L886.6,1085 L883,1086.6 L879.9,1085.3 L876.6,1085.4 L873.7,1083.3 L870.7,1081.7 L867,1083.5 L864,1082 L860.4,1081.7 L857.1,1083.6 L853.7,1085 L849.9,1083.2 L846.5,1084.5 L845.7,1087.6 L845,1090.7 L842.9,1093.3 L842.3,1096.5 L840.5,1099.2 L839,1102 L836.6,1104.6 L834.2,1107.2 L831.3,1109.3 L829.5,1112.5 L826.5,1114.5 L823.1,1114.4 L820.1,1113.2 L817.3,1111.9 L814.9,1109.4 L811.7,1108.7 L809,1107 L807.1,1104.4 L804,1103.4 L801.9,1101 L799.9,1098.5 L795.7,1099 L793.1,1097.3 L790.8,1095.2 L788.8,1092.7 L786.6,1090.4 L784.5,1088.2 L781.5,1087 L779.2,1084.1 L779,1080 L774.5,1078.4 L774,1074.5 L774.6,1070.8 L772.1,1067.6 L773.7,1063.8 L770.5,1060.7 L771.5,1057 L771.8,1053.6 L770.1,1051 L769.8,1047.9 L767.5,1045.5 L765.2,1043.1 L766.5,1039.3 L764,1037 L761.4,1035.1 L758.2,1034 L756.7,1030.7 L754,1029 L751.4,1027.1 L748.3,1025.9 L745.7,1023.9 L744.2,1020.8 L741.4,1019.1 L739,1017 L736.3,1015.2 L735.3,1012.1 L734.3,1009.1 L732.6,1006.6 L730.2,1004.6 L728.2,1002.2 L726.4,999.8 L724.3,997.5 L722.5,995.1 L721.5,992 L718.9,990.3 L715.7,989.3 L714.4,985.8 L711.5,984.5"/>
<path stroke-width="1.5" d="M340,889 L339.7,886 L339.3,882.9 L338.6,879.9 L339.7,876.7 L337.9,873.8 L338.5,870.7 L339,867.6 L337.2,864.7 L337.8,861.5 L337.5,858.5 L336,855.6 L333.5,853.4 L332.3,850.3 L331.1,847.2 L329.1,844.7 L327.8,841.6 L325.3,839.4 L323.8,836.5 L322.5,833.5 L319.1,832.5 L316.3,830.2 L313.5,827.9 L310,827 L309.3,823.3 L308.8,819.6 L307.5,816 L304.6,814.6 L302.1,812.5 L298.7,811.9 L296.1,810.1 L293.6,807.9 L290.8,806.3 L287.7,805.2 L285,803.5 L282.4,801.5 L280.7,798.8 L278.6,796.3 L276.7,793.7 L275,791 L272.4,789.2 L269.1,788.9 L266.7,786.5 L263.9,785.2 L260.4,785.3 L257.8,783.5 L255,782 L252,781.7 L248.9,782.2 L246,781 L244.2,778.6 L243.3,775.6 L241,773.5 L241.2,770 L242.8,766.9 L242.8,763.3 L244.5,760.2 L245.9,757 L246,753.5 L244.5,750.8 L243.2,748 L242.3,745 L242.1,741.8 L240.2,739.2 L240,736 L238,733.5 L237.3,730.3 L236.7,727.2 L234.5,724.7 L233.2,721.9 L232.2,718.9 L230,716.5 L229.5,713.3 L227.5,710.8 L226.8,707.6 L226.1,704.5 L223.3,702.3 L222.8,699.1 L221.5,696.3 L220,693.5 L219,690.5 L218.8,687.3 L219.8,684 L218.5,681 L221,679 L221.5,675.6 L224.2,673.7 L226.4,671.5 L227.5,668.5 L225.7,665.7 L225,662.5 L222.7,660 L221.8,656.8 L221,653.6 L219.5,650.7 L218.4,647.6 L215.9,645.2 L215,642 L214.5,638.7 L212.5,636 L213.5,633.1 L214.1,630.1 L214.8,627.2 L216.7,624.6 L216.8,621.5 L217.5,618.5 L214.1,617.6 L211.8,614.6 L208.3,613.7 L205.4,611.8 L202.5,610 L202.8,606.1 L204.1,602.3 L205,598.5 L203.5,595.7 L201.8,593 L201.5,589.7 L199.3,587.1 L199.2,583.7 L196.7,581.3 L196.7,577.9 L195.5,574.9 L193.7,572.3 L192.8,569.2 L190.8,566.6 L190,563.5 L191,560.5 L191,557.4 L191.2,554.2 L193,551.4 L192.6,548.2 L193.1,545.1 L194.5,542.2 L194.2,539 L195,536 L194.5,532.7 L192.9,529.6 L193.4,526.1 L191.6,523.1 L190.5,519.9 L191.3,516.3 L189.2,513.4 L189,510 L190,507.1 L190.3,504.1 L189.8,501 L188.9,497.9 L190,495 L191.1,492 L193.1,489.7 L195.1,487.4 L197.2,485.1 L199.4,483 L200.3,479.8 L201.7,477.1 L204,475 L205.3,472 L205.8,468.8 L206.9,465.7 L208.9,463 L210,460 L210.5,456.7 L209.6,453.3 L210.4,450 L211,446.7 L211.3,443.4 L211,440 L211,436.9 L212.1,433.8 L211,430.6 L212.1,427.5 L212.4,424.4 L212.8,421.3 L212.3,418.1 L212.5,415 L212.2,411.6 L212.5,408.2 L213.8,405 L213.6,401.6 L214.8,398.4 L215,395 L216.6,392.3 L219.6,391.1 L221.1,388.2 L223,385.8 L225.3,383.9 L227.8,382.1 L230,380 L231.3,377.3 L232.2,374.4 L233.1,371.5 L234.8,369 L236.7,366.6 L237.3,363.5 L239.1,361.1 L238.8,357.7 L241.6,355.6 L242,352.5 L243.8,349.7 L244.3,346.4 L245.4,343.3 L246.5,340.3 L248.2,337.5 L247.9,333.9 L250,331.2 L251,328.1 L252,325 L253,321.9 L255,319.3 L256.2,316.4 L256.5,313 L258.8,310.6 L259.7,307.5 L261,304.6 L262.6,301.8 L262.9,298.4 L265.1,295.9 L266,292.8 L267.5,290 L268.8,287.1 L268.3,283.9 L270,281.1 L270.5,278.1 L271,275 L272.1,272.1 L271.2,268.8 L272.9,266 L273.5,263 L274,260 L275.5,257.1 L276.2,253.9 L276.9,250.7 L278.3,247.8 L280,245 L279.4,241.5 L277.8,238.1 L276.8,234.7 L276.5,231.1 L276,227.5 L276.3,224.4 L276.8,221.3 L276.3,218 L278,215.1 L277.6,211.8 L278.8,208.8 L277.7,205.5 L279,202.5 L279.3,199.2 L278.2,196.2 L278.3,193 L277.9,189.9 L277.1,186.8 L275.3,183.9 L275.2,180.7 L275,177.5"/>
<path stroke-width="2.4" d="M1752,600.5 L1748.9,600.8 L1747,602.9 L1745,605 L1742.4,606.2 L1740.2,607.6 L1739.9,611.2 L1737,612 L1734.4,613.2 L1732.6,615.1 L1731.6,617.9 L1732.4,620.4 L1734.8,622.2 L1735,624.9 L1734.2,628.1 L1738.2,629.2 L1737.9,632.1 L1739.9,634.4 L1739.3,638 L1742.3,639.8 L1744.5,641.9 L1745,645 L1746.1,647.4 L1744.6,650.3 L1747.1,652.4 L1747.3,654.9 L1747,657.6 L1748,660 L1747.6,662.8 L1749.4,665 L1751.5,667.1 L1750.4,670.1 L1753,672.1 L1752,675 L1754.4,677 L1755,679.6 L1754.4,682.8 L1756.7,684.7 L1756.4,687.8 L1758,690 L1759.8,692.2 L1760.7,694.6 L1761.7,697.1 L1760,700.2 L1760.1,702.8 L1762,705 L1764.4,707 L1765.8,709.5 L1768,711.6 L1768,715"/>
<path stroke-width="2.4" d="M1755.3,597.4 L1756,600.1 L1753.7,602.3 L1753.4,604.9 L1753.5,607.5 L1753,610 L1754.7,612.2 L1753.3,615.3 L1753.9,617.8 L1755.6,620 L1756.3,622.5 L1757,625 L1758.7,627.4 L1760.2,629.8 L1759.7,632.7 L1759.7,635.6 L1762.2,637.7 L1760.5,641 L1763.2,643.1 L1763,646 L1764.9,648.5 L1766.6,651 L1764.3,655 L1766.2,657.5 L1768,660 L1767.7,663.3 L1769.6,665.7 L1771,668.4 L1772.4,671.3 L1771.1,673.9 L1770.3,676.5 L1771.4,679.3 L1768.1,681.7 L1770,684.6 L1770.5,687.4 L1769,690 L1768,692.7 L1770.5,695.2 L1767.8,698 L1769.6,700.6 L1769.5,703.2"/>
<path stroke-width="2.4" d="M1715.8,662 L1718.5,664.3 L1722.2,662.1 L1725,664 L1727.8,662.8 L1729.6,666.8 L1732.7,664.4 L1735.3,664.7 L1737.4,667 L1740,667 L1743.1,666.8 L1745.8,669.1 L1749.1,667.1 L1752,668.4"/>
<path stroke-width="2.4" d="M1733,636 L1734.2,639.1 L1736.4,641.2 L1738.8,643.1 L1742,644 L1744.9,644.3 L1745.8,647.3 L1748.2,648.3 L1750,650"/>
<path stroke-width="2.4" d="M1722,668.4 L1723.8,670.5 L1725.8,672.3 L1729.4,671.8 L1730,675.7 L1733.8,674.7 L1735.2,677.6 L1738.5,677.3 L1740,680 L1741.8,682 L1745,681.2 L1746.3,684.2 L1748.5,685.4 L1750.7,686.7 L1753.4,686.8 L1754.9,689.3 L1757,690.9 L1760,690.5"/>
<path stroke-width="2.4" d="M1731.6,692 L1734.1,693 L1735.3,696 L1737.7,697.1 L1741.1,696.4 L1742.1,699.8 L1745,700 L1746.9,701.8 L1750.2,701.3 L1750.6,705.4 L1754,704.7 L1756.1,706.2 L1758,707.9 L1760,709.5"/>
<path stroke-width="2.4" d="M1725.3,704.7 L1727.5,706.2 L1730.5,705 L1733,705.7 L1735.1,707.7 L1738,706.5 L1739.8,709.6 L1742.3,710.3 L1745,710 L1748.2,709.5 L1750,712.7 L1752.8,713.2 L1755.2,714.7 L1757.4,716.8 L1759.9,718 L1763.2,717.4"/>
<path stroke-width="2.4" d="M1772.6,703.2 L1773.7,700.7 L1774.5,698.2 L1776,695.8 L1773.9,692.6 L1774.1,690 L1777.3,688 L1776.2,685 L1777,682.5 L1778,680 L1780,677.7 L1778.7,674.4 L1782,672.6 L1781.5,669.5 L1780.9,666.4 L1784.7,664.7 L1784.4,661.7 L1785,659 L1784,656 L1787.2,653.8 L1787.4,651 L1787.8,648.3 L1788,645.5 L1789.7,643 L1788.4,640 L1786.1,637.9 L1788.8,634.6 L1787,632.3 L1785.1,630.1 L1785.3,627.4"/>
<path stroke-width="2.4" d="M1745.8,741 L1748.6,740.5 L1751,741.4 L1752.8,743.8 L1755.7,743.2 L1758.1,743.9 L1760,746 L1762.5,746.5 L1765.1,747 L1767.8,747 L1770.1,748.3 L1772.2,750.5 L1775,750 L1778.1,749.3 L1780.8,750.1 L1783.7,750.2 L1786.3,751.6 L1789.2,751.7 L1791.6,753.7"/>
<path stroke-width="2.4" d="M1756.8,758.4 L1759.4,758.2 L1761.9,757.2 L1764.8,758.6 L1767.1,756.3 L1769.8,756.7 L1772.3,755.8 L1775,756 L1777.5,756 L1779.8,758.4 L1782.7,755.6 L1785,757.1 L1787.6,756.7 L1790,758"/>
<path stroke-width="2.4" d="M1747.4,777.4 L1749.9,777.9 L1752.5,777.3 L1755.2,776.7 L1757.4,779.2 L1760,779 L1762.7,778.8 L1765,779.7 L1767.2,781 L1769.3,782.6 L1771.3,784.6 L1774.3,783.6 L1776.1,786.2 L1779,785.3"/>
<path stroke-width="2.4" d="M1752,790 L1755.2,789.4 L1757.7,790.7 L1759.9,792.6 L1762.2,794.6 L1765,795 L1767.9,794.8 L1770.3,795.7 L1772.6,797.1 L1774.2,799.9 L1777,800"/>
<path stroke-width="2.4" d="M1772.6,712.6 L1775.3,714.1 L1776.4,716.6 L1777.5,719.1 L1777.2,722.5 L1779.9,724 L1780.6,726.7 L1784,727.8 L1784.2,730.9 L1784.6,733.8 L1787,735.5 L1787.2,738.6 L1790,740 L1789.9,742.9 L1792.7,744.3 L1795,745.9 L1793.8,749.4 L1796.9,750.6 L1798.4,752.7 L1797.3,756.1 L1798.1,758.5 L1799.2,760.8 L1800,763.2 L1802.6,764.7 L1803.8,767.3 L1804.4,769.9 L1804.4,772.5 L1801.4,775.3 L1804.7,777.8 L1803.4,780.5 L1802.7,783.3 L1801.4,785.7 L1799.6,787.7 L1798,789.8 L1795.4,791.1 L1794.3,793.6 L1792.2,795.4 L1790,797 L1787.1,797.8 L1787.4,801.5 L1783.9,801.8 L1782.4,803.8 L1781,806.1 L1779.3,807.9 L1777,809.3 L1775.7,811.6 L1774.2,813.7"/>
<path stroke-width="1.8" d="M204,606 L206.9,606.9 L209.3,608.6 L212,610 L215.3,610.2 L218,612 L220.1,610.1 L222.2,608 L225,607 L228.8,607.1 L232,609 L234.9,610.3 L237.7,611.7 L240,614 L242.6,615.3 L244.5,617.6 L247.7,618 L249.5,620.6 L252,622 L249.4,621.9 L247.4,619.8 L244.9,619.2 L242.2,619.3 L240,618 L237,617.3 L234,617.6 L231,618.9 L228,618 L226.6,620.1 L224.7,621.8 L222.8,623.5 L222,626 L223.3,628.5 L223.8,631.2 L224,634 L224.9,636.6 L225.9,639.1 L228,641 L224.9,640 L222.2,638.4 L220,636 L219.7,633.4 L218.1,631.3 L217.4,628.9 L217.5,626.2 L216,624 L215.5,621.3 L214.3,618.9 L213.7,616.2 L212,614"/>
<path stroke-width="4" stroke-dasharray="6 2" d="M1965,310 L1964.9,313.1 L1964,315.5 L1959.7,315.4 L1958.6,317.7 L1956.9,319.5 L1956,322 L1954.3,324.3 L1951.8,325.4 L1948,324.9 L1946.1,326.9 L1945,330 L1943.1,332.4 L1940.6,333.6 L1938.6,335.8 L1934.4,333.4 L1933.7,338.3 L1930,337 L1927.5,338.1 L1924.6,338.9 L1923.3,341.2 L1923.7,344.9 L1920.1,345 L1921.3,349.6 L1918,350 L1914.8,350.4 L1914.8,354.9 L1910.8,354.1 L1911.1,358.9 L1907.1,358.3 L1905,360 L1901.4,359.7 L1902.1,364.7 L1900.5,366.8 L1897.3,367 L1896.9,370.6 L1893,370 L1893.1,373.7 L1888.7,373.4 L1885.4,374.1 L1883.7,376.1 L1884,380"/>
<path stroke-width="3" stroke-dasharray="6 2" d="M1958,322 L1958.3,325.6 L1956.2,327.3 L1952.2,327.3 L1952.9,331.3 L1947.6,330.3 L1948,334 L1944.6,334.3 L1943,336.6 L1942.1,339.7 L1938.7,339.9 L1939,344.3 L1936,345 L1933.5,345.9 L1932,348.5 L1929.4,349.2 L1925.7,348.3 L1925,352"/>
<path stroke-width="3.2" d="M1642,948 L1640.8,950.3 L1640.9,953.1 L1641.3,955.9 L1639.2,957.9 L1636.5,959.7 L1637.1,962.7 L1636,965 L1634.9,967.4 L1635.8,970.4 L1634,972.6 L1633.5,975.2 L1633.6,977.9 L1632.5,980.3 L1632.3,983 L1630,985 L1628.5,987.5 L1630,990 L1629.9,992.5 L1628.9,995 L1629.2,997.5 L1630.8,1000 L1628.5,1002.5 L1630,1005 L1630.2,1007.5 L1628.9,1010.3 L1632,1012.4 L1632.1,1014.9 L1633.6,1017.2 L1631,1020.2 L1632.1,1022.6 L1633,1025 L1633,1028 L1635.8,1029.8 L1635,1033.2 L1636.8,1035.4 L1637.7,1038 L1640,1040"/>
<path stroke-width="2.2" d="M1596,1125 L1598.6,1127 L1599.8,1130.5 L1603,1132 L1601.8,1134.5 L1600.6,1137.1 L1600.2,1140 L1598,1142 L1599.6,1144 L1602.6,1144.2 L1602.9,1148 L1606,1148"/>
<path stroke-width="2.2" d="M1620,1170 L1620.9,1173 L1623.9,1173.1 L1625.9,1174.7 L1628,1176 L1626.8,1178.7 L1626.4,1181.9 L1624,1184"/>
<path stroke-width="2.2" d="M1650,1212 L1653.3,1212.7 L1652.7,1217.3 L1656.9,1217.1 L1656.6,1221.4 L1660,1222 L1661.6,1224.8 L1665.2,1223.5 L1667.2,1225.7 L1669.8,1226.4 L1672,1228"/>
<path stroke-width="2.2" stroke-dasharray="5 2" d="M1700,862 L1698.6,864.2 L1699.1,867.3 L1697.6,869.4 L1696.4,871.6 L1693.9,873.2 L1691.5,874.9 L1692,878 L1691,880.4 L1688.9,882.4 L1690.3,885.6 L1688.9,887.8 L1686.6,889.7 L1685.2,892 L1686,895 L1685.2,898.1 L1682.7,899.5 L1681.2,901.9 L1679,903.5 L1675.5,903.9 L1675.2,907.5 L1671.3,907.4 L1670,910 L1666.8,910.4 L1664.3,911.6 L1663.1,914.5 L1661.2,916.6 L1659.9,919.3 L1656.6,919.6 L1655,922 L1653.3,924.3 L1651.4,926.5 L1648.7,927.7 L1647.8,931 L1645.8,933 L1643.5,934.7 L1640,935"/>
<path stroke-width="2" d="M1871,468 L1870.9,470.2 L1872.2,472 L1871.4,474.4 L1873.3,476 L1874,478 L1872.3,479.7 L1874.3,482.2 L1872.8,484 L1873.5,486.2 L1872,488"/>
<path stroke-width="2" d="M1876,470 L1876.8,471.9 L1875.6,474.2 L1877.5,475.9 L1878.5,477.8 L1878,480 L1877.6,482.2 L1878.2,484.2 L1878.9,486.1 L1880,488"/>
<path stroke-width="1.3" d="M1841,332.5 L1841.8,329.7 L1844.9,328.7 L1845.4,325.7 L1848.1,324.4 L1849.6,322.1 L1850.6,319.5 L1852.1,317.3 L1853.5,315 L1852.4,312.3 L1855.4,310.2 L1855.5,307.6 L1854.5,304.9 L1853.9,302.3 L1855.4,300 L1856.5,297.6 L1857.3,295.1 L1855.8,292.4 L1857,290 L1856.3,287.5 L1856,285 L1856.4,282.5 L1855.6,280 L1857.7,277.5 L1855.6,275 L1856.5,272.5 L1854.9,270.1 L1857,267.5 L1854.8,265 L1856,262.5 L1855,259.8 L1856.8,257.5 L1858.4,255.2 L1857.8,252.6 L1858.6,250.1 L1858,247.5 L1858.5,245 L1860.9,243.1 L1859.7,239.7 L1860.1,236.9 L1862.7,235.1 L1863.5,232.5 L1863.6,229.6 L1864.2,227 L1866.8,225.1 L1866.7,222.2 L1868.5,220 L1871.2,218.9 L1874,220"/>
<path stroke-width="2.2" d="M340,158 L339.1,160.4 L337,162.4 L338.3,165.7 L336.6,167.9 L335,170 L334.1,172.8 L335.5,175.1 L337.6,177.3 L337.4,179.9 L336.4,182.7 L338,185 L337.3,187.6 L337.7,190.4 L334.4,192.1 L335.7,195.4 L333.4,197.4 L333,200 L331.8,202.4 L331.4,205 L329.2,207.1 L330.6,210.3 L328.5,212.4 L328,215 L327.9,218.1 L324.3,219.6 L325.4,223.2 L323.2,225.4 L322,228"/>
<path stroke-width="2.2" d="M330,165 L329.7,167.6 L329.4,170.2 L329,172.8 L326.1,174.7 L326.4,177.4 L326,180 L326.1,182.6 L327.2,185 L328.3,187.4 L328,190.2 L329.1,192.6 L330,195 L328.2,197.2 L327.5,199.8 L326.1,202.1 L326.2,205.1 L326,207.9 L324,210 L323.7,212.9 L321,214.5 L321.3,217.6 L318.8,219.4 L318,222"/>
<path stroke-width="2.2" d="M310,216 L311.6,213.8 L311.1,210.6 L313,208.5 L314.1,206 L316,204 L317.8,201.9 L318.9,199.4 L320.7,197.3 L319.7,193.8 L322,192"/>
<path stroke-width="5" d="M1270,1110 L1272.5,1110.5 L1275.1,1110.3 L1277.4,1111.9 L1280.2,1111.2 L1282.5,1112.4 L1285,1113 L1287.6,1114.3 L1289.9,1111.3 L1292.5,1111.9 L1295,1112.9 L1297.4,1110.8 L1300,1112 L1302.4,1110.6 L1305.1,1112.4 L1307.7,1112.5 L1309.9,1110.1 L1312.4,1109.3 L1315,1110 L1318.2,1110.2 L1320,1107.1 L1322.9,1106.7 L1325.5,1105.5 L1328,1104 L1330.7,1103.4 L1333.5,1103.2 L1336,1102.4 L1338,1100 L1340.2,1101.6 L1342.4,1103 L1344.8,1103.9 L1347.4,1104.4 L1350,1105 L1352.2,1107.2 L1354.7,1109.1 L1356,1112"/>
<path stroke-width="4" d="M1330,1072 L1332.5,1070.5 L1335.3,1070.7 L1338,1070 L1340.4,1071.4 L1340.2,1074.6 L1343.2,1075.5 L1344,1078 L1343.3,1081 L1341.7,1083.8 L1342.8,1087.1 L1342,1090 L1342,1093.1 L1344,1095 L1346,1097"/>
<path stroke-width="4" d="M1345,1100 L1345.6,1103 L1349.6,1103.1 L1349.7,1106.5 L1352,1108 L1353,1110.5 L1352.7,1113.5 L1355.3,1115.4 L1356,1118"/>
<path stroke-width="3" d="M1310,1100 L1313.1,1099.9 L1316.2,1100.2 L1319,1098.4 L1322,1098 L1324.4,1097 L1326.8,1096.1 L1328,1093.6 L1330,1092"/>
<path stroke-width="2" d="M1360.6,1070.5 L1362.3,1072.7 L1362.9,1075.5 L1364,1078 L1364,1080.7 L1361.8,1082.8 L1362.4,1085.7 L1361,1088 L1358.9,1089.9 L1356.3,1091.3 L1355,1094 L1352.1,1096.2 L1349,1098"/>
<path stroke-width="1.5" fill="#fff" d="M1325,1076 L1332,1073 L1340,1075 L1339,1080 L1330,1082 L1325,1080Z"/>
<path stroke-width="3" d="M1176,1092 L1173.4,1093.6 L1170.5,1094.6 L1168,1096.4 L1164.9,1097 L1162.4,1098.9 L1159.8,1100.4 L1156.6,1101 L1154,1102.5 L1151.2,1103.8 L1148.6,1105.4 L1146,1107 L1143.8,1109.1 L1141.1,1110.5 L1138.7,1112.3 L1135.7,1113.3 L1133.9,1116 L1130.7,1116.6 L1128.8,1119.1 L1126.2,1120.6 L1123.4,1121.8 L1120.8,1123.4 L1118.5,1125.3 L1116,1126.9 L1113.4,1128.5 L1110.9,1130.2 L1108.5,1132 L1106.1,1134 L1103.3,1135.1 L1100.8,1137 L1097.7,1137.6 L1095.3,1139.4 L1092.6,1140.9 L1089.9,1142.3 L1086.7,1142.8 L1084.7,1145.4 L1081.4,1145.7 L1078.7,1147.1 L1076.6,1149.6 L1073.4,1150.1 L1071,1152 L1069.5,1154.6 L1067,1156.5 L1065.7,1159.3 L1063.5,1161.4 L1061.4,1163.5 L1059.6,1166 L1057.1,1167.8 L1055.4,1170.3 L1054.3,1173.2 L1051.7,1175 L1050.3,1177.8 L1048.3,1180 L1046,1182 L1045.2,1185.2 L1044.4,1188.3 L1043.1,1191.3 L1041.5,1194.3 L1040.9,1197.5 L1040.3,1200.7 L1038.9,1203.7 L1038.5,1207 L1039.9,1210 L1040,1213.3 L1040.6,1216.6 L1041.6,1219.7 L1043.2,1222.6 L1044,1225.8 L1045.2,1228.8 L1046,1232 L1046.8,1235.2 L1046.7,1238.6 L1048.7,1241.5 L1048.3,1245 L1050,1248 L1050.2,1251.3 L1051,1254.5"/>
<path stroke-width="1.2" d="M1121,264.5 L1121,261.4 L1120.9,258.3 L1121.1,255.2 L1120.8,252.1 L1121,249 L1124.4,250.2 L1128,250 L1129.4,253 L1129.6,256.2 L1129.7,259.5 L1130.8,262.5 L1131,265.8 L1132.9,268.7 L1133.5,271.8 L1134,275 L1137,275.7 L1140,276.5 L1143,277.5 L1145.5,279.4 L1148.6,280.1 L1151.3,281.7 L1153.9,283.6 L1156.8,284.7 L1160,284.9 L1163.1,284.1 L1165.6,282 L1168.5,280.9 L1171.4,279.8 L1175.2,280.4 L1178.9,278.9 L1182.7,279.2 L1185.5,281.1 L1189,281.4 L1191.8,283.2 L1194.2,286 L1196.3,289 L1197.9,292.3 L1200.9,294.6 L1204.6,292.7 L1207.8,290 L1210.2,292.2 L1213.4,292.9 L1216.1,294.5 L1218.3,297 L1221.4,298 L1223.6,300.1 L1226,302 L1229,300.9 L1231.3,298.3 L1234.1,296.7 L1237.3,295.8 L1240,294.1 L1243,292.9 L1245.9,294.4 L1248,297.2 L1251,298.6 L1254.2,299.2 L1257.3,297.6 L1260.5,297.1 L1263.7,297 L1266.9,297.4 L1270.2,298.4 L1272.8,300.9 L1276,302 L1281.7,300.8"/>
</g>
<g fill="#505050">
<ellipse cx="1683" cy="1262" rx="3" ry="1.5"/>
<ellipse cx="1675" cy="1266" rx="3" ry="1.5"/>
<ellipse cx="1667" cy="1269" rx="3" ry="1.5"/>
<ellipse cx="1658" cy="1272" rx="3" ry="1.5"/>
<ellipse cx="1648" cy="1274" rx="3" ry="1.5"/>
<ellipse cx="1640" cy="1275" rx="3" ry="1.5"/>
<ellipse cx="1613" cy="1275" rx="3" ry="1.5"/>
</g>
<g clip-path="url(#ak)">
<path fill="#b3dbab" d="M667.5,1087.9 C659.1,1094.2 638.6,1109 617,1125.8 C595.4,1142.6 561.7,1167.2 538,1189 C514.3,1210.8 495.1,1238.4 474.8,1256.9 C454.5,1275.4 426.1,1292.8 416.3,1300 L370,1320 L370,1040 L690,1040Z"/>
<path fill="#90cd7a" d="M604.3,1086.3 C594,1094.5 564.3,1118.2 542.7,1135.3 C521.1,1152.4 496.7,1173.5 474.8,1189 C452.9,1204.5 422.1,1221.9 411.6,1228.5 L370,1250 L370,1040 L620,1040Z"/>
<path fill="#f0d392" d="M509,1474.5 C511.5,1466.6 516.5,1442.4 524,1427 C531.5,1411.6 541.9,1394.5 554,1382 C566.1,1369.5 579.8,1359.9 596.5,1352 C613.2,1344.1 639.4,1336.6 654,1334.5 C668.6,1332.4 669.8,1334.5 684,1339.5 C698.2,1344.5 729.8,1360.3 739,1364.5 L760,1500 L500,1500Z"/>
<path fill="none" stroke="#5e6e5e" stroke-width="1.4" d="M667.5,1087.9 C659.1,1094.2 638.6,1109 617,1125.8 C595.4,1142.6 561.7,1167.2 538,1189 C514.3,1210.8 495.1,1238.4 474.8,1256.9 C454.5,1275.4 426.1,1292.8 416.3,1300"/>
<path fill="none" stroke="#5e6e5e" stroke-width="1.4" d="M604.3,1086.3 C594,1094.5 564.3,1118.2 542.7,1135.3 C521.1,1152.4 496.7,1173.5 474.8,1189 C452.9,1204.5 422.1,1221.9 411.6,1228.5"/>
<path fill="none" stroke="#6f7173" stroke-width="3" d="M509,1474.5 C511.5,1466.6 516.5,1442.4 524,1427 C531.5,1411.6 541.9,1394.5 554,1382 C566.1,1369.5 579.8,1359.9 596.5,1352 C613.2,1344.1 639.4,1336.6 654,1334.5 C668.6,1332.4 669.8,1334.5 684,1339.5 C698.2,1344.5 729.8,1360.3 739,1364.5"/>
</g>
<g fill="none" stroke="#585858" stroke-width="1.4" stroke-linejoin="round">
<path d="M423.4,1132.1 L432.1,1129 L433.7,1119.5 L449.5,1121 L468.5,1097.4 L477.9,1087.9 L506.4,1073.7 L519,1073.7 L531.6,1064.2 L536.4,1059.5 L547.4,1065.8 L553.7,1073.7 L575.9,1075.3 L577.4,1083.2 L601.1,1083.2 L632.7,1087.9 L648.5,1092.6 L664.3,1086.3 L689.6,1095.8 L740,1357 L767.5,1352 L780,1367 L810,1357 L825,1362 L850,1392 L885,1417 L930,1427 L940,1452 L935,1472 L920,1482 L895,1472 L850,1437 L810,1407 L770,1377 L740,1367 L708.7,1370.5 L693.4,1377 L680,1350 L660,1355 L665,1370 L653.8,1386 L631.8,1383.7 L614.3,1394.7 L596.7,1408 L590,1403.5 L595,1385 L610,1370 L625,1352 L623,1342 L616.5,1346.4 L600,1365 L583.5,1380 L570.3,1400 L566,1414.5 L552.7,1438.7 L526.4,1460.6 L509,1474.5 L480,1490 L440,1510 L400,1525 L355,1545 L320,1555 L297.5,1562 L320,1547 L355,1537 L384,1519.5 L421.5,1509.5 L456.5,1492 L484,1474.5 L504,1454.5 L516.5,1414.5 L495,1412 L489,1427 L480,1417 L467.5,1409.5 L450,1419.5 L443,1417 L445,1392 L440,1377 L415,1377 L405,1362 L400,1347 L395,1327 L400,1312 L419.5,1300 L432.1,1283.8 L451.1,1274.3 L468.5,1279 L474.8,1268 L466.9,1253.8 L474.8,1242.7 L451.1,1244.3 L446.3,1252.2 L427.4,1247.4 L408.4,1239.5 L405.3,1219 L394.2,1204.8 L435.3,1187.4 L446.3,1190.6 L447.9,1201.6 L455,1205 L468.5,1206.4 L476.4,1201.6 L470,1187 L465.3,1179.5 L451.1,1176.4 L447.9,1160.6 L430.5,1138.5Z"/>
<path d="M335,1247 L340,1250 L355,1254 L370,1266 L368,1272 L358,1270 L345,1260 L336,1256Z"/>
<path d="M370,1359.5 L385,1358 L395,1360 L395,1372 L385,1375 L375,1368Z"/>
<path d="M555,1426 L575,1430 L590,1445 L592,1462 L580,1480 L560,1489 L548,1482 L552,1462 L548,1450Z"/>
</g>
<g fill="none" stroke="#505050" stroke-linejoin="round" stroke-linecap="round">
<path stroke-width="2.4" d="M737.3,1366 L735,1368 L732.3,1367.9 L729.4,1366.5 L727.1,1368.9 L724.1,1366.8 L721.8,1369.3 L719.4,1370.6 L716.5,1369.5 L714.1,1370.9 L711.6,1371.8 L708.7,1370.5 L706.5,1372.3 L703.7,1372.8 L701.5,1374.8 L698,1373.7 L696.2,1376.6 L693.4,1377 L692.9,1374.4 L690.7,1372.7 L688.8,1370.9 L688.7,1368.1 L688.4,1365.5 L686.7,1363.5 L686,1361 L683.2,1359.6 L682.2,1357.3 L681,1355.1 L681.1,1352.3 L680,1350 L677.2,1349.4 L675.1,1351.7 L672.2,1350.8 L670.3,1353.9 L667.7,1354.1 L664.8,1353.1 L662.3,1353.4 L660,1355 L659.8,1357.8 L662.9,1359.6 L662.4,1362.5 L664.2,1364.7 L663.3,1367.8 L665,1370 L663.2,1372.1 L661.2,1374.2 L659.4,1376.3 L657.2,1378.1 L657.1,1381.5 L653.9,1382.7 L653.8,1386 L651,1386.5 L648.4,1384.1 L645.4,1386.5 L642.9,1384.1 L640.2,1383.1 L637.3,1384.1 L634.5,1384.5 L631.8,1383.7 L629,1384.1 L626.8,1385.5 L624.8,1387.2 L623.3,1389.7 L620.8,1390.5 L619.6,1393.5 L616.4,1393.2 L614.3,1394.7 L612.5,1396.9 L609.5,1397.5 L608.7,1401.1 L605.6,1401.5 L604.1,1404.1 L601.4,1405.1 L597.9,1405 L596.7,1408 L595,1405.7 L592.5,1404.6 L590,1403.5 L590.2,1400.7 L590,1397.8 L590.5,1395.1 L593,1393 L595.3,1390.7 L595.1,1387.9 L595,1385 L596.1,1382.4 L600,1382.5 L599.9,1378.7 L601.3,1376.3 L604.4,1375.6 L606.1,1373.6 L607,1370.8 L610,1370 L612.8,1369 L612.8,1365.5 L614.7,1363.8 L615.4,1360.9 L617,1358.9 L621.2,1359 L623,1357.1 L623.7,1354.3 L625,1352 L622.9,1349.8 L622.7,1347.3 L622.2,1344.8 L623,1342 L621.8,1344.9 L618.1,1344 L616.5,1346.4 L614.8,1348.6 L614.1,1351.7 L611.6,1353.2 L609.3,1354.8 L607.3,1356.7 L605.4,1358.8 L604.7,1361.7 L601,1362.2 L600,1365 L598.9,1367.9 L596,1368.9 L593.3,1370 L592.7,1373.5 L590.8,1375.7 L586.4,1374.9 L585.1,1377.6 L583.5,1380 L583,1382.8 L580.1,1384.1 L580.3,1387.5 L576.7,1388.2 L577.6,1392 L575.9,1394.1 L574.1,1396.1 L571.4,1397.5 L570.3,1400 L568.3,1402 L569.8,1405.1 L567.2,1407 L567.7,1409.8 L566.9,1412.1 L566,1414.5 L564.2,1416.4 L564.4,1419.4 L561.7,1420.7 L561.7,1423.6 L561,1426.1 L558.3,1427.5 L557.5,1429.9 L557.8,1432.9 L553.7,1433.5 L553.1,1436 L552.7,1438.7 L550.8,1440.5 L548,1441.3 L546,1443 L545.7,1446.7 L543.6,1448.3 L540.6,1448.8 L538.7,1450.7 L536.1,1451.7 L535.3,1454.8 L533.3,1456.5 L530.7,1457.6 L527.3,1457.6 L526.4,1460.6 L525.3,1463.7 L521,1462.8 L519.7,1465.6 L518,1468 L516.4,1470.4 L513.5,1471.2 L511.3,1472.9 L509,1474.5 L507.5,1477.1 L504.7,1477.2 L501.6,1476.7 L499.3,1477.8 L497.5,1479.8 L495.8,1482 L492.8,1481.7 L491.9,1485.5 L488.6,1484.5 L486.3,1485.8 L485.1,1488.7 L482.5,1489.2 L480,1490 L477.8,1491.4 L474.8,1491.4 L472.8,1493.2 L471,1495.5 L467.7,1494.9 L465.9,1497.1 L463.1,1497.3 L461.4,1499.9 L459.1,1501.1 L456.7,1502.3 L454.7,1504 L451.3,1503.3 L449.2,1504.8 L447.2,1506.8 L444.5,1507.3 L442.1,1508.2 L440,1510 L437.1,1509.3 L435.8,1513 L433.5,1514 L430.1,1512.2 L427.7,1512.9 L425.6,1514.5 L423.5,1516 L420.6,1515.5 L418.3,1516.6 L417,1520.2 L413.9,1519.1 L411.4,1519.6 L409.7,1522.2 L406.7,1521.3 L404.2,1521.8 L402.4,1524.1 L400,1525 L397.7,1526.3 L395.1,1526.8 L392.4,1527.1 L390.3,1528.7 L387.4,1528.7 L385.8,1531.4 L383.7,1532.9 L381.6,1534.6 L378.4,1533.8 L376.2,1535.3 L373.8,1536.2 L370.9,1536 L368.7,1537.5 L366.5,1538.9 L364.3,1540.4 L362.4,1542.6 L359.7,1542.9 L357.6,1544.5 L355,1545 L352.5,1545.8 L349.5,1544.7 L347.4,1546.9 L344.7,1546.8 L342.4,1548.2 L340.1,1549.5 L337.1,1548.7 L334.9,1550.2 L332.6,1551.9 L330.1,1552.4 L327.3,1552.3 L324.6,1552.2 L322.9,1555.8 L320,1555 L317.9,1557.2 L314.9,1556.1 L312.7,1558.1 L310.4,1559.3 L307.1,1557.6 L304.9,1559.3 L302.9,1561.6 L299.5,1559.8 L297.5,1562"/>
<path stroke-width="3" d="M555,1426 L557.8,1424.8 L560.1,1426.3 L562.9,1425.6 L565.2,1427.1 L567.3,1429.5 L569.8,1429.8 L572.5,1429.4 L575,1430 L576.2,1432.6 L578.9,1433.6 L579.6,1436.7 L582.2,1437.8 L585.4,1438.4 L586.1,1441.4 L588.2,1443.1 L590,1445 L590.2,1447.9 L591.8,1450.5 L590.2,1453.6 L592.6,1456.2 L592.5,1459.1 L592,1462 L591.4,1464.8 L589.8,1467 L588.6,1469.5 L585.2,1470.4 L583.9,1472.9 L584.6,1476.5 L581.2,1477.6 L580,1480 L578.2,1482.7 L574.8,1481.7 L572.7,1483.7 L569.9,1484.4 L567.1,1484.7 L564.5,1485.7 L562.2,1487.2 L560,1489 L557.2,1488.3 L554.4,1487.6 L553,1484.5 L550.5,1483.3 L548,1482 L550,1479.8 L550.5,1477.3 L548.3,1474.3 L549.7,1471.9 L551.3,1469.7 L550.7,1466.9 L553.3,1464.9 L552,1462 L549.4,1460.2 L550.1,1457.3 L550.9,1454.4 L550.5,1451.8 L548,1450 L548.7,1447.6 L548.4,1444.9 L550.5,1442.9 L550.1,1440.2 L552.3,1438.2 L551.6,1435.4 L551.7,1432.9 L553.9,1430.9 L555.3,1428.7 L555,1426"/>
<path stroke-width="1.6" d="M805,1372 L807.7,1373.6 L808.8,1377 L810.9,1379.3 L814.5,1379.9 L817.7,1381 L820.6,1382.4 L821.8,1385.7 L825.1,1386.7 L826.9,1389.2 L827.6,1393.1 L830,1395 L832.4,1396.9 L833.3,1400.5 L838.4,1399 L840.9,1400.7 L843,1402.9 L844.2,1406.1 L847.5,1406.8 L847.4,1411.7 L850.5,1412.7 L851.2,1416.5 L856.2,1415.2 L855.9,1420.2 L860,1420 L863,1421.1 L863.5,1425.1 L865.6,1427.3 L870,1426.7 L872.2,1428.8 L875.7,1429.3 L875.6,1434.1 L878.4,1435.4 L880.2,1438 L884.9,1437 L887.2,1438.9 L886.8,1444.2 L890,1445 L893.2,1446.4 L892.5,1451.6 L896.1,1452.6 L900.5,1452.7 L900.1,1457.6 L902.5,1459.8 L905.7,1461.1 L906.2,1465.1 L908.8,1467.2 L911.5,1468.9 L915,1470"/>
<path stroke-width="1.6" d="M815,1365 L817,1367.4 L818.6,1370.2 L823.8,1369.1 L822.7,1375 L826,1376 L828.2,1378.1 L829.8,1381.1 L834.1,1380.9 L834.6,1385 L837.4,1386.6 L841.9,1386.2 L841.9,1390.8 L845,1392 L847.1,1394.4 L848.8,1397.4 L851.3,1399.3 L854.4,1400.4 L857.1,1402.1 L858.4,1405.5 L863.7,1403.9 L866.2,1405.7 L866.9,1410 L869.4,1412 L870.8,1415.3 L875,1415 L877.1,1417.7 L880.3,1418.3 L882,1421.7 L887,1419.2 L889.4,1421.4 L889.9,1426.8 L893.5,1426.9 L896.4,1428.1 L899.5,1429 L903.6,1428.2 L905,1432 L907.7,1433.6 L910.7,1434.9 L912.8,1437.2 L914.2,1440.2 L918,1440.7 L917.3,1446 L922.4,1445.1 L925.2,1446.5 L925.4,1450.9 L928.7,1451.9 L930,1455"/>
<path stroke-width="1.6" d="M800,1385 L802.7,1386.8 L802.5,1391.6 L805.9,1392.7 L811,1392.2 L811.1,1396.6 L815.1,1397.2 L817.8,1399 L816.8,1404.6 L818.4,1407.5 L822.6,1407.8 L825,1410 L826.7,1412.6 L831,1412.4 L833.4,1414.2 L834.9,1417 L838.1,1418.1 L837.5,1423.2 L842.3,1422.5 L843.3,1425.9 L847.2,1426 L848.9,1428.6 L850,1432 L853,1433.5 L854.6,1436.4 L857.8,1437.6 L859,1440.8 L861.1,1443.2 L865.2,1443.4 L865.9,1447.3 L870.1,1447.5 L870.1,1452.1 L871.8,1454.9 L873.6,1457.6 L876.1,1459.5 L880,1460 L882.2,1462.2 L883.4,1465.8 L886.8,1466.4 L889.4,1468 L894.1,1466.8 L896.6,1468.6 L898.4,1471.4 L898.6,1476.3 L901.1,1478.1 L905,1478"/>
<path stroke-width="1.6" d="M835,1375 L838.4,1376.3 L839.8,1379.1 L842.5,1380.9 L842.2,1384.7 L843.4,1387.5 L846.1,1389.4 L847.7,1392 L848.5,1395.1 L851.7,1396.6 L852,1400 L854.5,1402 L855.1,1405.2 L857.2,1407.4 L857.2,1411 L858.8,1413.5 L861.1,1415.6 L863.3,1417.8 L866.4,1419.3 L865.7,1423.4 L867.5,1425.8 L871.3,1426.9 L872,1430 L875,1432 L875.2,1435.4 L877.2,1437.9 L878.6,1440.7 L880,1443.5 L881.3,1446.3 L884.6,1448.1 L883.5,1452.3 L885,1455"/>
<path stroke-width="1.6" d="M860,1395 L862.2,1397 L865.2,1398.2 L867.7,1399.8 L869.1,1402.9 L871.8,1404.3 L874.9,1405.2 L877.9,1406.4 L879.6,1409 L879.2,1414.2 L881.5,1416.2 L884.7,1417 L888.6,1417 L890,1420 L892.3,1421.9 L894,1424.9 L896.5,1426.5 L901.5,1424.4 L900.9,1430.8 L904,1431.6 L907.1,1432.2 L908.8,1435.1 L914,1432.8 L916.2,1434.9 L916.9,1439.2 L920,1440 L922.5,1442.3 L922.7,1446 L924,1448.9 L924.7,1452.3 L929.9,1453 L930.4,1456.4 L929.3,1460.8 L933.6,1462.1 L935,1465"/>
<path stroke-width="1.8" d="M423.4,1132.1 L426.5,1131.6 L429,1129.4 L432.1,1129 L432,1125.7 L432.6,1122.6 L433.7,1119.5 L436.9,1119.6 L440,1120.1 L443.1,1120.9 L446.4,1120.1 L449.5,1121 L452.1,1119.2 L453.1,1116.1 L455,1113.7 L456.5,1111.1 L459.2,1109.3 L461.2,1107.1 L462.3,1104 L465.1,1102.4 L466.7,1099.8 L468.5,1097.4 L470.5,1094.7 L472.9,1092.3 L474.8,1089.6 L477.9,1087.9 L481,1087.1 L484.1,1086.1 L486.7,1084.1 L489,1081.6 L492,1080.4 L495.3,1079.9 L497.4,1077.1 L500.8,1076.7 L503.7,1075.4 L506.4,1073.7 L509.5,1073.8 L512.7,1072.9 L515.9,1072.7 L519,1073.7 L520.8,1070.9 L524.6,1070.6 L527,1068.6 L528.9,1065.9 L531.6,1064.2 L533.8,1061.6 L536.4,1059.5 L539,1061.3 L541.9,1062.6 L544.9,1063.8 L547.4,1065.8 L549.2,1068.6 L551.8,1070.9 L553.7,1073.7 L556.8,1074.5 L560,1074.4 L563.3,1073.8 L566.4,1074.7 L569.5,1075.1 L572.7,1075.1 L575.9,1075.3 L576,1079.4 L577.4,1083.2 L580.8,1083.5 L584.2,1082.9 L587.6,1084.2 L590.9,1082.2 L594.3,1083.1 L597.7,1083.8 L601.1,1083.2 L604.4,1082.7 L607.6,1083.1 L610.4,1085.6 L613.8,1084.5 L617,1085.1 L620,1086.5 L623.2,1086.7 L626.5,1086.3 L629.4,1088.4 L632.7,1087.9 L636.1,1088.1 L639.4,1088.6 L642.3,1090.3 L645.5,1091.1 L648.5,1092.6 L651.5,1090.9 L654.9,1090.3 L658.1,1089 L661.2,1087.7 L664.3,1086.3 L666.8,1088.2 L670.1,1087.8 L672.9,1089 L675.7,1090.2 L678,1092.6 L681.4,1091.9 L684.1,1093.3 L686.4,1095.8 L689.6,1095.8"/>
</g>
<g fill="none" stroke="#585858" stroke-width="1.4">
<ellipse cx="13" cy="1466.5" rx="4" ry="2.5"/>
<ellipse cx="47.7" cy="1486.4" rx="1" ry="1"/>
<ellipse cx="79.7" cy="1511.4" rx="1" ry="1"/>
<ellipse cx="84.4" cy="1516" rx="1.2" ry="1.2"/>
<ellipse cx="79.7" cy="1518.4" rx="1" ry="1"/>
<ellipse cx="103" cy="1524.3" rx="3" ry="2.7"/>
<ellipse cx="126.6" cy="1538.8" rx="1.5" ry="1.5"/>
<ellipse cx="210" cy="1552.5" rx="4" ry="3.5"/>
<ellipse cx="238.5" cy="1560.5" rx="3.5" ry="2"/>
<ellipse cx="261.5" cy="1561.5" rx="1.5" ry="1.5"/>
<ellipse cx="270.5" cy="1560" rx="3.5" ry="2"/>
<ellipse cx="309" cy="1436.5" rx="3" ry="2"/>
<ellipse cx="315" cy="1454.5" rx="2" ry="1.5"/>
<ellipse cx="412" cy="1379" rx="1.5" ry="1.5"/>
<path d="M1.5,1445 L3.6,1444.2 L5.7,1443.6 L8,1443.5 L9,1445.3 L10.6,1446.6 L12,1448 L13.5,1449.8 L15.6,1451 L15.4,1453 L15,1455 L13.3,1453.4 L11.3,1452.5 L9,1452 L6.5,1450.9 L4,1450 L3.4,1447.2 L1.5,1445"/>
<path d="M62.5,1508 L65.2,1507.2 L68,1507 L70.4,1505.6 L73,1505 L72,1507.4 L72,1510 L69.7,1510.2 L67.3,1510.2 L65,1511 L62.5,1508"/>
<path d="M137.5,1540 L140.3,1540.2 L143,1541 L144.9,1542.4 L146,1544.7 L148,1546 L150.4,1546.4 L152.9,1546.9 L155.4,1546.7 L157.8,1547 L156.3,1548.7 L156,1551 L153.9,1550.2 L151.6,1550.5 L149.5,1549.7 L147.2,1550.5 L145,1550 L142.7,1549 L141.4,1546.8 L139,1546 L139.2,1543.8 L138.5,1541.9 L137.5,1540"/>
<path d="M280,1556 L281.8,1554.4 L283.8,1553 L286,1552 L288,1553.9 L290.6,1555 L289.2,1557.5 L288,1560 L286,1559.8 L284,1560.5 L282,1560.6 L281.6,1558 L280,1556"/>
<path stroke-width="1.5" d="M21,1460 L23.5,1461.4 L25,1463.8"/>
<path stroke-width="2.2" d="M83,1525 L84.9,1526.1 L86.2,1527.8 L87.4,1529.6 L89,1531 L90.8,1532.6 L91.1,1535.2 L93.3,1536.5 L94.5,1538.5"/>
<path stroke-width="1.5" d="M115.6,1550 L117.6,1549.2 L119.9,1549.7 L121.9,1549"/>
<path stroke-width="2.4" d="M156,1550 L158.2,1550.4 L160.3,1549.8 L162.3,1549.3 L164.4,1548.3 L166.6,1549.3 L168.6,1548.3 L170.8,1548.8 L172.8,1547.5 L175,1548 L177,1549.3 L179.4,1549 L181.4,1550.2 L183.7,1550.4 L185.5,1552.1 L187.8,1552.4 L190,1553 L192.1,1552.8 L194.3,1553.6 L196.4,1552 L198.5,1552 L200.7,1551.9 L202.8,1551.4 L205,1552 L207.1,1552.5 L209.1,1553.3 L211.3,1553.6 L213.1,1554.9 L215,1556 L217.1,1557 L218.2,1559.4 L220.2,1560.5 L222.7,1560.7 L224,1562.9 L226.2,1563.7 L228,1565"/>
</g>
<text class="lbl" x="349.5" y="255.4" font-size="46" text-anchor="middle" letter-spacing="0.9">Above</text>
<text class="lbl" x="819.5" y="400.4" font-size="46" text-anchor="middle" letter-spacing="0.6">Equal</text>
<text class="lbl" x="819.5" y="453.7" font-size="46" text-anchor="middle" letter-spacing="0.67">Chances</text>
<text class="lbl" x="688.5" y="855.8" font-size="46" text-anchor="middle" letter-spacing="0.75">Below</text>
<text class="lbl" x="1439.5" y="624.75" font-size="46" text-anchor="middle" letter-spacing="0.8">Above</text>
<text class="lbl" x="1602.5" y="1060.75" font-size="45.5" text-anchor="middle" letter-spacing="0.7">Below</text>
<text class="lbl" x="507.5" y="1130.75" font-size="36.5" text-anchor="middle" letter-spacing="0.8">Above</text>
<text class="lbl" x="604.3" y="1283.25" font-size="36" text-anchor="middle" letter-spacing="0.6">Equal</text>
<text class="lbl" x="604.1" y="1324.5" font-size="36" text-anchor="middle" letter-spacing="0.3">Chances</text>
<text class="lbl" x="640.5" y="1378.25" font-size="36" text-anchor="middle" letter-spacing="0.65">Below</text>
<text x="1023.5" y="91.3" font-size="93.3" text-anchor="middle" fill="#000">Seasonal Precipitation Outlook</text>
<text x="720" y="163" font-size="41" font-weight="bold" fill="#000">Valid:</text>
<text x="1199" y="163" font-size="41.7" text-anchor="end" fill="#000">Mar-Apr-May 2025</text>
<text x="720" y="209.5" font-size="41" font-weight="bold" fill="#000">Issued:</text>
<text x="1227" y="209.5" font-size="41.7" text-anchor="end" fill="#000">February 20, 2025</text>
<g font-weight="bold" fill="#000" text-anchor="middle">
<text x="1354.5" y="1182.7" font-size="32" letter-spacing="0.7">Probability</text>
<text x="1354.8" y="1220.5" font-size="32" letter-spacing="0.8">(Percent Chance)</text>
<g font-size="24" letter-spacing="0.9">
<text x="1198.5" y="1254.2">Above</text>
<text x="1199.5" y="1283.2">Normal</text>
<text x="1356.3" y="1251">Near</text>
<text x="1355.8" y="1280">Normal</text>
<text x="1521.8" y="1253.1">Below</text>
<text x="1521.8" y="1282.1">Normal</text>
<text x="1355.8" y="1428.25">Equal</text>
<text x="1355.2" y="1457">Chances</text>
</g>
</g>
<g fill="#000" text-anchor="middle" font-size="28" letter-spacing="1">
<text x="1009.6" y="1319.5">Leaning</text><text x="1009.6" y="1353.25">Above</text>
<text x="1009.6" y="1457">Likely</text><text x="1009.6" y="1490.75">Above</text>
<text x="1703.6" y="1319.5">Leaning</text><text x="1704.2" y="1353.25">Below</text>
<text x="1704.2" y="1457">Likely</text><text x="1704.2" y="1490.75">Below</text>
</g>
<g stroke="#777" stroke-width="1.6">
<rect x="1117.5" y="1297.75" width="57" height="25" fill="#b2dcab"/>
<rect x="1441" y="1296.25" width="57" height="25.5" fill="#f0d392" stroke="#6d6d6d" stroke-width="2.2"/>
<rect x="1117.5" y="1338.25" width="57" height="25" fill="#90cd7a"/>
<rect x="1441" y="1336.75" width="57" height="25.5" fill="#d9a650" stroke="#6d6d6d" stroke-width="2.2"/>
<rect x="1117.5" y="1378.25" width="57" height="25" fill="#47b131"/>
<rect x="1441" y="1376.75" width="57" height="25.5" fill="#bd6a2e" stroke="#6d6d6d" stroke-width="2.2"/>
<rect x="1117.5" y="1418.25" width="57" height="25" fill="#009a2e"/>
<rect x="1441" y="1416.75" width="57" height="25.5" fill="#955036" stroke="#6d6d6d" stroke-width="2.2"/>
<rect x="1117.5" y="1458.75" width="57" height="25" fill="#007d1c"/>
<rect x="1441" y="1457.25" width="57" height="25.5" fill="#9a5236" stroke="#6d6d6d" stroke-width="2.2"/>
<rect x="1117.5" y="1498.75" width="57" height="25" fill="#275e0c"/>
<rect x="1441" y="1497.25" width="57" height="25.5" fill="#7b3d0c" stroke="#6d6d6d" stroke-width="2.2"/>
<rect x="1117.5" y="1539" width="57" height="25" fill="#244f06"/>
<rect x="1441" y="1537.5" width="57" height="25.5" fill="#4f3028" stroke="#6d6d6d" stroke-width="2.2"/>
<rect x="1282.5" y="1294.5" width="57" height="25" fill="#d4d5d7" stroke="#707070" stroke-width="2.2"/>
<rect x="1282.5" y="1335" width="57" height="25" fill="#a0a0a0" stroke="#707070" stroke-width="2.2"/>
<rect x="1325.5" y="1471" width="58" height="25.5" fill="#fff" stroke="#7a7a7a" stroke-width="2.2"/>
</g>
<g fill="#000" font-size="22.5">
<text x="1189" y="1318.25">33-40%</text>
<text x="1511" y="1318.25">33-40%</text>
<text x="1189" y="1358.75">40-50%</text>
<text x="1511" y="1358.75">40-50%</text>
<text x="1189" y="1398.75">50-60%</text>
<text x="1511" y="1398.75">50-60%</text>
<text x="1189" y="1438.75">60-70%</text>
<text x="1511" y="1438.75">60-70%</text>
<text x="1189" y="1479.25">70-80%</text>
<text x="1511" y="1479.25">70-80%</text>
<text x="1189" y="1519.25">80-90%</text>
<text x="1511" y="1519.25">80-90%</text>
<text x="1189" y="1559.5">90-100%</text>
<text x="1511" y="1559.5">90-100%</text>
<text x="1348" y="1314.5">33-40%</text><text x="1348" y="1355">40-50%</text>
</g>
<g fill="none" stroke="#000" stroke-width="1.4">
<path d="M1107.0,1295.0 C1092.7,1295.0 1086.5,1302.1 1086.5,1315.4 L1086.5,1315.4 C1086.5,1323.6 1078.3,1329.0 1066.0,1329.0 C1078.3,1329.0 1086.5,1334.4 1086.5,1342.6 L1086.5,1342.6 C1086.5,1355.9 1092.7,1363.0 1107.0,1363.0"/>
<path d="M1107.0,1374.5 C1092.7,1374.5 1086.5,1387.5 1086.5,1411.5 L1086.5,1443.0 C1086.5,1457.4 1078.3,1467.0 1066.0,1467.0 C1078.3,1467.0 1086.5,1476.6 1086.5,1491.0 L1086.5,1522.5 C1086.5,1546.5 1092.7,1559.5 1107.0,1559.5"/>
<path d="M1605.0,1295.0 C1619.7,1295.0 1626.0,1302.1 1626.0,1315.4 L1626.0,1315.4 C1626.0,1323.6 1634.4,1329.0 1647.0,1329.0 C1634.4,1329.0 1626.0,1334.4 1626.0,1342.6 L1626.0,1342.6 C1626.0,1355.9 1619.7,1363.0 1605.0,1363.0"/>
<path d="M1605.0,1374.5 C1619.7,1374.5 1626.0,1387.5 1626.0,1411.5 L1626.0,1441.8 C1626.0,1456.2 1634.4,1465.8 1647.0,1465.8 C1634.4,1465.8 1626.0,1475.3 1626.0,1489.8 L1626.0,1520.0 C1626.0,1544.0 1619.7,1557.0 1605.0,1557.0"/>
</g>
<svg x="1770" y="0" width="160" height="130" viewBox="0 0 1948 1583">
<defs><clipPath id="nc"><circle cx="1003" cy="792" r="712"/></clipPath></defs>
<g clip-path="url(#nc)">
<rect x="0" y="0" width="1948" height="1583" fill="#fff"/>
<path fill="#1589ca" d="M0,560 L320,600 C420,640 520,760 640,860 C760,950 880,985 990,990 L1160,925 C1350,860 1500,700 1640,480 L1948,300 L1948,1583 L0,1583Z"/>
<path fill="#fff" d="M790,1072 C880,1050 950,1010 995,975 L1160,932 C1230,928 1290,935 1322,952 C1200,962 1100,995 1000,1045 C930,1082 850,1092 790,1072Z"/>
<path fill="#0b318f" d="M425,385 C600,180 800,85 1040,85 C1280,85 1450,200 1570,365 C1450,420 1380,520 1300,690 C1220,850 1130,932 1030,932 C900,932 800,850 700,690 C600,540 520,440 425,385Z"/>
</g>
<path fill="#fff" fill-rule="evenodd" d="M722,550 L722,395 Q722,365 752,365 L802,365 Q832,365 832,395 L832,550 Z M756,399 L798,399 L798,550 L756,550 Z M877,520 L877,395 Q877,365 907,365 L962,365 Q992,365 992,395 L992,520 Q992,550 962,550 L907,550 Q877,550 877,520 Z M911,399 L958,399 L958,516 L911,516 Z M1032,550 L1032,395 Q1032,365 1062,365 L1107,365 Q1137,365 1137,395 L1137,550 Z M1066,399 L1103,399 L1103,450.5 L1066,450.5 Z M1066,484.5 L1103,484.5 L1103,550 L1066,550 Z M1180,550 L1180,395 Q1180,365 1210,365 L1260,365 Q1290,365 1290,395 L1290,550 Z M1214,399 L1256,399 L1256,450.5 L1214,450.5 Z M1214,484.5 L1256,484.5 L1256,550 L1214,550 Z"/>
</svg>
<svg x="130" y="0" width="130" height="130" viewBox="0 0 1583 1583">
<defs><path id="arcT" d="M252.5,657.9 A565,565 0 0 1 1353.5,657.9"/><path id="arcB" d="M132.6,939.8 A688,688 0 0 0 1473.4,939.8"/></defs>
<circle cx="803" cy="785" r="700" fill="#1d8fd0" stroke="#13365a" stroke-width="26"/>
<circle cx="803" cy="785" r="548" fill="#fff" stroke="#13365a" stroke-width="22"/>
<text font-size="165" fill="#fff"><textPath href="#arcT" textLength="1518" lengthAdjust="spacingAndGlyphs">DEPARTMENT OF COMMERCE</textPath></text>
<text font-size="165" fill="#fff"><textPath href="#arcB" textLength="1849" lengthAdjust="spacingAndGlyphs">UNITED STATES OF AMERICA</textPath></text>
<circle cx="180" cy="790" r="24" fill="#fff"/><circle cx="1435" cy="790" r="24" fill="#fff"/>
<path d="M498,676 L1114,676 L1080,708 L1076,1150 C1062,1240 900,1272 800,1300 C700,1272 545,1240 540,1150 L538,708Z" fill="#d5a21c" stroke="#111" stroke-width="22"/>
<path d="M545,700 L1070,700 L1070,955 L545,955Z" fill="#1a90d2"/>
<path d="M548,930 L1068,930 L1068,968 L548,968Z" fill="#1c2630"/>
<path d="M610,905 L990,905 L970,935 L630,935Z" fill="#1c1c1c"/>
<g fill="#e8e8e8" stroke="#222" stroke-width="10">
<path d="M570,850 L700,760 L720,880Z"/><path d="M650,870 L740,745 L760,880Z"/>
<path d="M770,740 L860,730 L870,880 L775,885Z"/><path d="M880,745 L950,770 L975,880 L885,885Z"/>
</g>
<g stroke="#222" stroke-width="14"><path d="M760,710 L760,900 M840,705 L840,900 M925,720 L925,900"/></g>
<path d="M772,978 L832,978 L842,1262 L768,1262Z" fill="#2a2a2a"/>
<path d="M690,1250 L910,1250 L800,1295Z" fill="#333"/>
<path d="M620,322 C690,360 765,420 805,475 L815,612 L758,612 C690,520 645,420 620,322Z" fill="#5a3a16"/>
<path d="M1002,330 C985,420 950,520 870,612 L820,612 L832,475 C880,410 940,360 1002,330Z" fill="#5a3a16"/>
<path d="M788,430 C800,410 850,410 862,440 L870,520 C868,580 850,615 820,620 C790,615 775,580 775,520Z" fill="#b98223"/>
<path d="M800,425 L860,425 L855,470 L805,470Z" fill="#eee" stroke="#333" stroke-width="8"/>
<path d="M682,628 C720,615 900,615 940,628 L940,652 L682,652Z" fill="#1e1e1e"/>
</svg>
</svg></body></html>
